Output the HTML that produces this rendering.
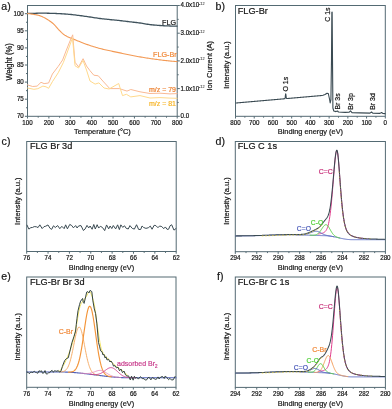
<!DOCTYPE html>
<html><head><meta charset="utf-8"><style>
html,body{margin:0;padding:0;background:#fff;width:392px;height:409px;overflow:hidden}
svg{display:block;filter:blur(0.3px)}
</style></head><body><svg width="392" height="409" viewBox="0 0 392 409" font-family='"Liberation Sans", sans-serif'><text transform="translate(6.0,10.0) scale(1,1.08)" font-size="10.6" fill="#161616" stroke="#161616" stroke-width="0.2" text-anchor="middle" >a)</text>
<rect x="27.5" y="5.5" width="149.7" height="110.8" fill="none" stroke="#546a73" stroke-width="1.0"/>
<line x1="24.9" y1="116.30000000000001" x2="27.5" y2="116.30000000000001" stroke="#546a73" stroke-width="1.0"/>
<text transform="translate(23.8,118.4) scale(1,1.08)" font-size="6.2" fill="#161616" stroke="#161616" stroke-width="0.2" text-anchor="end" >70</text>
<line x1="24.9" y1="99.20000000000002" x2="27.5" y2="99.20000000000002" stroke="#546a73" stroke-width="1.0"/>
<text transform="translate(23.8,101.30000000000001) scale(1,1.08)" font-size="6.2" fill="#161616" stroke="#161616" stroke-width="0.2" text-anchor="end" >75</text>
<line x1="24.9" y1="82.10000000000001" x2="27.5" y2="82.10000000000001" stroke="#546a73" stroke-width="1.0"/>
<text transform="translate(23.8,84.2) scale(1,1.08)" font-size="6.2" fill="#161616" stroke="#161616" stroke-width="0.2" text-anchor="end" >80</text>
<line x1="24.9" y1="65.0" x2="27.5" y2="65.0" stroke="#546a73" stroke-width="1.0"/>
<text transform="translate(23.8,67.1) scale(1,1.08)" font-size="6.2" fill="#161616" stroke="#161616" stroke-width="0.2" text-anchor="end" >85</text>
<line x1="24.9" y1="47.900000000000006" x2="27.5" y2="47.900000000000006" stroke="#546a73" stroke-width="1.0"/>
<text transform="translate(23.8,50.00000000000001) scale(1,1.08)" font-size="6.2" fill="#161616" stroke="#161616" stroke-width="0.2" text-anchor="end" >90</text>
<line x1="24.9" y1="30.8" x2="27.5" y2="30.8" stroke="#546a73" stroke-width="1.0"/>
<text transform="translate(23.8,32.9) scale(1,1.08)" font-size="6.2" fill="#161616" stroke="#161616" stroke-width="0.2" text-anchor="end" >95</text>
<line x1="24.9" y1="13.7" x2="27.5" y2="13.7" stroke="#546a73" stroke-width="1.0"/>
<text transform="translate(23.8,15.799999999999999) scale(1,1.08)" font-size="6.2" fill="#161616" stroke="#161616" stroke-width="0.2" text-anchor="end" >100</text>
<line x1="26.0" y1="107.75000000000001" x2="27.5" y2="107.75000000000001" stroke="#546a73" stroke-width="1.0"/>
<line x1="26.0" y1="90.65" x2="27.5" y2="90.65" stroke="#546a73" stroke-width="1.0"/>
<line x1="26.0" y1="73.55000000000001" x2="27.5" y2="73.55000000000001" stroke="#546a73" stroke-width="1.0"/>
<line x1="26.0" y1="56.45" x2="27.5" y2="56.45" stroke="#546a73" stroke-width="1.0"/>
<line x1="26.0" y1="39.35" x2="27.5" y2="39.35" stroke="#546a73" stroke-width="1.0"/>
<line x1="26.0" y1="22.25" x2="27.5" y2="22.25" stroke="#546a73" stroke-width="1.0"/>
<line x1="177.2" y1="116.3" x2="179.79999999999998" y2="116.3" stroke="#546a73" stroke-width="1.0"/>
<text transform="translate(180.5,118.2) scale(1,1.08)" font-size="6.2" fill="#161616" stroke="#161616" stroke-width="0.2" text-anchor="start" >0.0</text>
<line x1="177.2" y1="88.6" x2="179.79999999999998" y2="88.6" stroke="#546a73" stroke-width="1.0"/>
<text transform="translate(180.5,90.50) scale(1,1.08)" font-size="6.2" fill="#161616" stroke="#161616" stroke-width="0.2">1.0x10<tspan font-size="3.8" dy="-2.4" stroke-width="0.04">-12</tspan></text>
<line x1="177.2" y1="60.9" x2="179.79999999999998" y2="60.9" stroke="#546a73" stroke-width="1.0"/>
<text transform="translate(180.5,62.80) scale(1,1.08)" font-size="6.2" fill="#161616" stroke="#161616" stroke-width="0.2">2.0x10<tspan font-size="3.8" dy="-2.4" stroke-width="0.04">-12</tspan></text>
<line x1="177.2" y1="33.2" x2="179.79999999999998" y2="33.2" stroke="#546a73" stroke-width="1.0"/>
<text transform="translate(180.5,35.10) scale(1,1.08)" font-size="6.2" fill="#161616" stroke="#161616" stroke-width="0.2">3.0x10<tspan font-size="3.8" dy="-2.4" stroke-width="0.04">-12</tspan></text>
<line x1="177.2" y1="5.5" x2="179.79999999999998" y2="5.5" stroke="#546a73" stroke-width="1.0"/>
<text transform="translate(180.5,7.40) scale(1,1.08)" font-size="6.2" fill="#161616" stroke="#161616" stroke-width="0.2">4.0x10<tspan font-size="3.8" dy="-2.4" stroke-width="0.04">-12</tspan></text>
<line x1="177.2" y1="102.45" x2="178.7" y2="102.45" stroke="#546a73" stroke-width="1.0"/>
<line x1="177.2" y1="74.75" x2="178.7" y2="74.75" stroke="#546a73" stroke-width="1.0"/>
<line x1="177.2" y1="47.05" x2="178.7" y2="47.05" stroke="#546a73" stroke-width="1.0"/>
<line x1="177.2" y1="19.349999999999994" x2="178.7" y2="19.349999999999994" stroke="#546a73" stroke-width="1.0"/>
<line x1="27.5" y1="116.3" x2="27.5" y2="118.5" stroke="#546a73" stroke-width="1.0"/>
<line x1="48.885714285714286" y1="116.3" x2="48.885714285714286" y2="118.5" stroke="#546a73" stroke-width="1.0"/>
<line x1="70.27142857142857" y1="116.3" x2="70.27142857142857" y2="118.5" stroke="#546a73" stroke-width="1.0"/>
<line x1="91.65714285714284" y1="116.3" x2="91.65714285714284" y2="118.5" stroke="#546a73" stroke-width="1.0"/>
<line x1="113.04285714285713" y1="116.3" x2="113.04285714285713" y2="118.5" stroke="#546a73" stroke-width="1.0"/>
<line x1="134.42857142857142" y1="116.3" x2="134.42857142857142" y2="118.5" stroke="#546a73" stroke-width="1.0"/>
<line x1="155.8142857142857" y1="116.3" x2="155.8142857142857" y2="118.5" stroke="#546a73" stroke-width="1.0"/>
<line x1="177.2" y1="116.3" x2="177.2" y2="118.5" stroke="#546a73" stroke-width="1.0"/>
<line x1="38.19285714285714" y1="116.3" x2="38.19285714285714" y2="117.7" stroke="#546a73" stroke-width="1.0"/>
<line x1="59.57857142857142" y1="116.3" x2="59.57857142857142" y2="117.7" stroke="#546a73" stroke-width="1.0"/>
<line x1="80.96428571428571" y1="116.3" x2="80.96428571428571" y2="117.7" stroke="#546a73" stroke-width="1.0"/>
<line x1="102.35" y1="116.3" x2="102.35" y2="117.7" stroke="#546a73" stroke-width="1.0"/>
<line x1="123.73571428571428" y1="116.3" x2="123.73571428571428" y2="117.7" stroke="#546a73" stroke-width="1.0"/>
<line x1="145.12142857142857" y1="116.3" x2="145.12142857142857" y2="117.7" stroke="#546a73" stroke-width="1.0"/>
<line x1="166.50714285714284" y1="116.3" x2="166.50714285714284" y2="117.7" stroke="#546a73" stroke-width="1.0"/>
<text transform="translate(27.50,124.8) scale(1,1.08)" font-size="6.2" fill="#161616" stroke="#161616" stroke-width="0.2" text-anchor="middle" >100</text>
<text transform="translate(48.89,124.8) scale(1,1.08)" font-size="6.2" fill="#161616" stroke="#161616" stroke-width="0.2" text-anchor="middle" >200</text>
<text transform="translate(70.27,124.8) scale(1,1.08)" font-size="6.2" fill="#161616" stroke="#161616" stroke-width="0.2" text-anchor="middle" >300</text>
<text transform="translate(91.66,124.8) scale(1,1.08)" font-size="6.2" fill="#161616" stroke="#161616" stroke-width="0.2" text-anchor="middle" >400</text>
<text transform="translate(113.04,124.8) scale(1,1.08)" font-size="6.2" fill="#161616" stroke="#161616" stroke-width="0.2" text-anchor="middle" >500</text>
<text transform="translate(134.43,124.8) scale(1,1.08)" font-size="6.2" fill="#161616" stroke="#161616" stroke-width="0.2" text-anchor="middle" >600</text>
<text transform="translate(155.81,124.8) scale(1,1.08)" font-size="6.2" fill="#161616" stroke="#161616" stroke-width="0.2" text-anchor="middle" >700</text>
<text transform="translate(177.20,124.8) scale(1,1.08)" font-size="6.2" fill="#161616" stroke="#161616" stroke-width="0.2" text-anchor="middle" >800</text>
<text transform="translate(102.4,134.2) scale(1,1.08)" font-size="7.4" fill="#161616" stroke="#161616" stroke-width="0.2" text-anchor="middle" >Temperature (°C)</text>
<text transform="translate(12.2,61.9) rotate(-90) scale(1,1.08)" font-size="7.6" fill="#161616" stroke="#161616" stroke-width="0.2" text-anchor="middle">Weight (%)</text>
<text transform="translate(211.7,65.7) rotate(-90) scale(1,1.08)" font-size="7.5" fill="#161616" stroke="#161616" stroke-width="0.2" text-anchor="middle">Ion Current (A)</text>
<polyline points="27.50,13.50 28.48,13.47 29.80,13.44 31.38,13.39 33.12,13.34 34.95,13.30 36.76,13.25 38.47,13.22 40.00,13.20 41.37,13.19 42.68,13.19 43.93,13.20 45.16,13.21 46.36,13.22 47.56,13.24 48.77,13.27 50.00,13.30 51.25,13.33 52.50,13.37 53.75,13.41 55.00,13.46 56.25,13.51 57.50,13.57 58.75,13.63 60.00,13.70 61.25,13.77 62.50,13.84 63.75,13.92 65.00,14.00 66.25,14.09 67.50,14.18 68.75,14.29 70.00,14.40 71.25,14.52 72.50,14.66 73.75,14.80 75.00,14.96 76.25,15.11 77.50,15.27 78.75,15.44 80.00,15.60 81.25,15.76 82.50,15.93 83.75,16.11 85.00,16.28 86.25,16.46 87.50,16.64 88.75,16.82 90.00,17.00 91.25,17.19 92.50,17.38 93.75,17.57 95.00,17.77 96.25,17.96 97.50,18.15 98.75,18.33 100.00,18.50 101.25,18.66 102.50,18.81 103.75,18.95 105.00,19.08 106.25,19.21 107.50,19.34 108.75,19.47 110.00,19.60 111.25,19.73 112.50,19.85 113.75,19.97 115.00,20.09 116.25,20.21 117.50,20.34 118.75,20.47 120.00,20.60 121.25,20.74 122.50,20.89 123.75,21.04 125.00,21.19 126.25,21.34 127.50,21.50 128.75,21.65 130.00,21.80 131.25,21.95 132.50,22.09 133.75,22.23 135.00,22.38 136.25,22.52 137.50,22.67 138.75,22.83 140.00,23.00 141.25,23.19 142.50,23.39 143.75,23.60 145.00,23.82 146.25,24.03 147.50,24.24 148.75,24.43 150.00,24.60 151.25,24.75 152.50,24.88 153.75,25.01 155.00,25.12 156.25,25.22 157.50,25.32 158.75,25.41 160.00,25.50 161.27,25.58 162.57,25.66 163.88,25.73 165.19,25.79 166.47,25.85 167.71,25.91 168.89,25.95 170.00,26.00 171.07,26.04 172.12,26.08 173.15,26.11 174.12,26.13 175.02,26.15 175.81,26.17 176.48,26.19 177.00,26.20" fill="none" stroke="#3f525c" stroke-width="1.3" stroke-linejoin="round" stroke-linecap="round" />
<polyline points="27.50,13.50 28.09,13.58 28.90,13.69 29.86,13.82 30.91,13.97 32.01,14.12 33.10,14.29 34.11,14.45 35.00,14.60 35.77,14.74 36.47,14.86 37.13,14.98 37.76,15.11 38.38,15.26 39.01,15.43 39.68,15.64 40.40,15.90 41.17,16.21 41.99,16.57 42.83,16.96 43.68,17.38 44.54,17.82 45.39,18.28 46.21,18.74 47.00,19.20 47.77,19.67 48.54,20.16 49.31,20.68 50.06,21.19 50.78,21.71 51.46,22.23 52.11,22.72 52.70,23.20 53.23,23.65 53.70,24.09 54.13,24.52 54.52,24.94 54.89,25.35 55.25,25.76 55.62,26.18 56.00,26.60 56.38,27.02 56.75,27.44 57.11,27.86 57.46,28.27 57.82,28.70 58.19,29.12 58.58,29.56 59.00,30.00 59.44,30.46 59.91,30.95 60.39,31.45 60.88,31.95 61.38,32.45 61.89,32.92 62.40,33.38 62.90,33.80 63.40,34.19 63.89,34.55 64.38,34.88 64.88,35.21 65.39,35.51 65.91,35.81 66.44,36.11 67.00,36.40 67.56,36.68 68.12,36.93 68.68,37.17 69.26,37.41 69.87,37.65 70.52,37.90 71.23,38.18 72.00,38.50 72.84,38.85 73.74,39.23 74.69,39.63 75.69,40.05 76.72,40.48 77.79,40.92 78.88,41.36 80.00,41.80 81.15,42.25 82.36,42.71 83.60,43.19 84.88,43.67 86.16,44.15 87.45,44.61 88.74,45.07 90.00,45.50 91.25,45.91 92.50,46.32 93.75,46.71 95.00,47.09 96.25,47.46 97.50,47.82 98.75,48.16 100.00,48.50 101.25,48.82 102.50,49.13 103.75,49.42 105.00,49.71 106.25,49.98 107.50,50.26 108.75,50.53 110.00,50.80 111.25,51.07 112.50,51.34 113.75,51.60 115.00,51.86 116.25,52.12 117.50,52.38 118.75,52.64 120.00,52.90 121.25,53.16 122.50,53.43 123.75,53.70 125.00,53.96 126.25,54.23 127.50,54.49 128.75,54.75 130.00,55.00 131.25,55.25 132.50,55.50 133.75,55.74 135.00,55.98 136.25,56.22 137.50,56.45 138.75,56.68 140.00,56.90 141.25,57.12 142.50,57.33 143.75,57.53 145.00,57.73 146.25,57.93 147.50,58.12 148.75,58.31 150.00,58.50 151.25,58.69 152.50,58.87 153.75,59.05 155.00,59.23 156.25,59.41 157.50,59.58 158.75,59.74 160.00,59.90 161.27,60.06 162.57,60.21 163.88,60.36 165.19,60.50 166.47,60.64 167.71,60.77 168.89,60.89 170.00,61.00 171.07,61.10 172.12,61.20 173.15,61.29 174.12,61.37 175.02,61.44 175.81,61.50 176.48,61.56 177.00,61.60" fill="none" stroke="#f39a55" stroke-width="1.1" stroke-linejoin="round" stroke-linecap="round" />
<polyline points="27.50,84.90 32.70,86.50 37.10,86.10 41.00,82.30 44.10,83.60 48.60,83.00 52.40,74.00 58.20,66.40 62.60,60.00 66.00,51.00 70.00,41.00 72.70,34.80 75.00,62.20 78.50,66.90 83.10,58.70 86.50,66.00 90.00,70.70 93.80,75.20 98.30,75.80 102.80,81.00 109.80,88.60 119.30,88.60 127.00,91.10 130.80,89.50 140.00,91.80 150.00,93.50 160.00,93.20 170.00,93.90 177.00,93.60" fill="none" stroke="#f9b994" stroke-width="1.0" stroke-linejoin="round" stroke-linecap="round" />
<polyline points="27.50,88.00 33.90,89.30 37.80,88.70 42.90,86.10 46.00,86.80 48.60,88.30 52.40,81.70 58.20,72.80 63.30,62.60 67.00,53.00 72.50,37.80 75.00,65.70 78.50,68.00 83.00,60.50 86.50,70.00 90.00,81.00 95.10,84.10 98.90,82.90 104.00,88.00 109.10,89.00 118.70,83.50 122.50,95.60 126.40,94.30 130.80,96.90 140.00,95.60 150.00,98.00 160.00,97.60 170.00,98.10 177.00,98.30" fill="none" stroke="#ffd98c" stroke-width="1.0" stroke-linejoin="round" stroke-linecap="round" />
<text transform="translate(176,24.6) scale(1,1.08)" font-size="7.2" fill="#161616" stroke="#161616" stroke-width="0.2" text-anchor="end" >FLG</text>
<text transform="translate(176.7,56.9) scale(1,1.08)" font-size="7.2" fill="#f08838" stroke="#f08838" stroke-width="0.2" text-anchor="end" >FLG-Br</text>
<text transform="translate(176,91.5) scale(1,1.08)" font-size="7.0" fill="#ec8030" stroke="#ec8030" stroke-width="0.2" text-anchor="end" >m/z = 79</text>
<text transform="translate(176,105.8) scale(1,1.08)" font-size="7.0" fill="#f6b428" stroke="#f6b428" stroke-width="0.2" text-anchor="end" >m/z = 81</text>
<text transform="translate(220.3,10.0) scale(1,1.08)" font-size="10.6" fill="#161616" stroke="#161616" stroke-width="0.2" text-anchor="middle" >b)</text>
<rect x="235.5" y="5.5" width="149.8" height="110.8" fill="none" stroke="#546a73" stroke-width="1.0"/>
<line x1="385.3" y1="116.3" x2="385.3" y2="118.5" stroke="#546a73" stroke-width="1.0"/>
<line x1="366.57500000000005" y1="116.3" x2="366.57500000000005" y2="118.5" stroke="#546a73" stroke-width="1.0"/>
<line x1="347.85" y1="116.3" x2="347.85" y2="118.5" stroke="#546a73" stroke-width="1.0"/>
<line x1="329.125" y1="116.3" x2="329.125" y2="118.5" stroke="#546a73" stroke-width="1.0"/>
<line x1="310.4" y1="116.3" x2="310.4" y2="118.5" stroke="#546a73" stroke-width="1.0"/>
<line x1="291.675" y1="116.3" x2="291.675" y2="118.5" stroke="#546a73" stroke-width="1.0"/>
<line x1="272.95" y1="116.3" x2="272.95" y2="118.5" stroke="#546a73" stroke-width="1.0"/>
<line x1="254.225" y1="116.3" x2="254.225" y2="118.5" stroke="#546a73" stroke-width="1.0"/>
<line x1="235.5" y1="116.3" x2="235.5" y2="118.5" stroke="#546a73" stroke-width="1.0"/>
<line x1="375.9375" y1="116.3" x2="375.9375" y2="117.7" stroke="#546a73" stroke-width="1.0"/>
<line x1="357.2125" y1="116.3" x2="357.2125" y2="117.7" stroke="#546a73" stroke-width="1.0"/>
<line x1="338.4875" y1="116.3" x2="338.4875" y2="117.7" stroke="#546a73" stroke-width="1.0"/>
<line x1="319.7625" y1="116.3" x2="319.7625" y2="117.7" stroke="#546a73" stroke-width="1.0"/>
<line x1="301.0375" y1="116.3" x2="301.0375" y2="117.7" stroke="#546a73" stroke-width="1.0"/>
<line x1="282.3125" y1="116.3" x2="282.3125" y2="117.7" stroke="#546a73" stroke-width="1.0"/>
<line x1="263.5875" y1="116.3" x2="263.5875" y2="117.7" stroke="#546a73" stroke-width="1.0"/>
<line x1="244.8625" y1="116.3" x2="244.8625" y2="117.7" stroke="#546a73" stroke-width="1.0"/>
<text transform="translate(235.50,124.8) scale(1,1.08)" font-size="6.2" fill="#161616" stroke="#161616" stroke-width="0.2" text-anchor="middle" >800</text>
<text transform="translate(254.22,124.8) scale(1,1.08)" font-size="6.2" fill="#161616" stroke="#161616" stroke-width="0.2" text-anchor="middle" >700</text>
<text transform="translate(272.95,124.8) scale(1,1.08)" font-size="6.2" fill="#161616" stroke="#161616" stroke-width="0.2" text-anchor="middle" >600</text>
<text transform="translate(291.68,124.8) scale(1,1.08)" font-size="6.2" fill="#161616" stroke="#161616" stroke-width="0.2" text-anchor="middle" >500</text>
<text transform="translate(310.40,124.8) scale(1,1.08)" font-size="6.2" fill="#161616" stroke="#161616" stroke-width="0.2" text-anchor="middle" >400</text>
<text transform="translate(329.12,124.8) scale(1,1.08)" font-size="6.2" fill="#161616" stroke="#161616" stroke-width="0.2" text-anchor="middle" >300</text>
<text transform="translate(347.85,124.8) scale(1,1.08)" font-size="6.2" fill="#161616" stroke="#161616" stroke-width="0.2" text-anchor="middle" >200</text>
<text transform="translate(366.58,124.8) scale(1,1.08)" font-size="6.2" fill="#161616" stroke="#161616" stroke-width="0.2" text-anchor="middle" >100</text>
<text transform="translate(385.30,124.8) scale(1,1.08)" font-size="6.2" fill="#161616" stroke="#161616" stroke-width="0.2" text-anchor="middle" >0</text>
<text transform="translate(310.4,134.2) scale(1,1.08)" font-size="7.4" fill="#161616" stroke="#161616" stroke-width="0.2" text-anchor="middle" >Binding energy (eV)</text>
<text transform="translate(228.8,65.0) rotate(-90) scale(1,1.08)" font-size="7.5" fill="#161616" stroke="#161616" stroke-width="0.2" text-anchor="middle">Intensity (a.u.)</text>
<text transform="translate(237.7,13.6) scale(1,1.08)" font-size="9.2" fill="#161616" stroke="#161616" stroke-width="0.2" text-anchor="start" >FLG-Br</text>
<polyline points="236.00,103.00 236.10,102.99 236.20,102.98 236.30,102.97 236.40,102.97 236.50,102.96 236.60,102.95 236.70,102.94 236.80,102.93 236.90,102.92 237.00,102.91 237.10,102.90 237.20,102.90 237.30,102.89 237.40,102.88 237.50,102.87 237.60,102.86 237.70,102.85 237.80,102.84 237.90,102.83 238.00,102.83 238.10,102.82 238.20,102.81 238.30,102.80 238.40,102.79 238.50,102.78 238.60,102.77 238.70,102.76 238.80,102.76 238.90,102.75 239.00,102.74 239.10,102.73 239.20,102.72 239.30,102.71 239.40,102.70 239.50,102.69 239.60,102.69 239.70,102.68 239.80,102.67 239.90,102.66 240.00,102.65 240.10,102.64 240.20,102.63 240.30,102.62 240.40,102.62 240.50,102.61 240.60,102.60 240.70,102.59 240.80,102.58 240.90,102.57 241.00,102.56 241.10,102.56 241.20,102.55 241.30,102.54 241.40,102.53 241.50,102.52 241.60,102.51 241.70,102.50 241.80,102.49 241.90,102.49 242.00,102.48 242.10,102.47 242.20,102.46 242.30,102.45 242.40,102.44 242.50,102.43 242.60,102.42 242.70,102.42 242.80,102.41 242.90,102.40 243.00,102.39 243.10,102.38 243.20,102.37 243.30,102.36 243.40,102.35 243.50,102.35 243.60,102.34 243.70,102.33 243.80,102.32 243.90,102.31 244.00,102.30 244.10,102.29 244.20,102.28 244.30,102.28 244.40,102.27 244.50,102.26 244.60,102.25 244.70,102.24 244.80,102.23 244.90,102.22 245.00,102.22 245.10,102.21 245.20,102.20 245.30,102.19 245.40,102.18 245.50,102.17 245.60,102.16 245.70,102.15 245.80,102.15 245.90,102.14 246.00,102.13 246.10,102.12 246.20,102.11 246.30,102.10 246.40,102.09 246.50,102.08 246.60,102.08 246.70,102.07 246.80,102.06 246.90,102.05 247.00,102.04 247.10,102.03 247.20,102.02 247.30,102.01 247.40,102.01 247.50,102.00 247.60,101.99 247.70,101.98 247.80,101.97 247.90,101.96 248.00,101.95 248.10,101.94 248.20,101.94 248.30,101.93 248.40,101.92 248.50,101.91 248.60,101.90 248.70,101.89 248.80,101.88 248.90,101.88 249.00,101.87 249.10,101.86 249.20,101.85 249.30,101.84 249.40,101.83 249.50,101.82 249.60,101.81 249.70,101.81 249.80,101.80 249.90,101.79 250.00,101.78 250.10,101.77 250.20,101.76 250.30,101.75 250.40,101.74 250.50,101.74 250.60,101.73 250.70,101.72 250.80,101.71 250.90,101.70 251.00,101.69 251.10,101.68 251.20,101.67 251.30,101.67 251.40,101.66 251.50,101.65 251.60,101.64 251.70,101.63 251.80,101.62 251.90,101.61 252.00,101.60 252.10,101.60 252.20,101.59 252.30,101.58 252.40,101.57 252.50,101.56 252.60,101.55 252.70,101.54 252.80,101.53 252.90,101.53 253.00,101.52 253.10,101.51 253.20,101.50 253.30,101.49 253.40,101.48 253.50,101.47 253.60,101.47 253.70,101.46 253.80,101.45 253.90,101.44 254.00,101.43 254.10,101.42 254.20,101.41 254.30,101.40 254.40,101.40 254.50,101.39 254.60,101.38 254.70,101.37 254.80,101.36 254.90,101.35 255.00,101.34 255.10,101.33 255.20,101.33 255.30,101.32 255.40,101.31 255.50,101.30 255.60,101.29 255.70,101.28 255.80,101.27 255.90,101.26 256.00,101.26 256.10,101.25 256.20,101.24 256.30,101.23 256.40,101.22 256.50,101.21 256.60,101.20 256.70,101.19 256.80,101.19 256.90,101.18 257.00,101.17 257.10,101.16 257.20,101.15 257.30,101.14 257.40,101.13 257.50,101.12 257.60,101.12 257.70,101.11 257.80,101.10 257.90,101.09 258.00,101.08 258.10,101.07 258.20,101.06 258.30,101.06 258.40,101.05 258.50,101.04 258.60,101.03 258.70,101.02 258.80,101.01 258.90,101.00 259.00,100.99 259.10,100.99 259.20,100.98 259.30,100.97 259.40,100.96 259.50,100.95 259.60,100.94 259.70,100.93 259.80,100.92 259.90,100.92 260.00,100.91 260.10,100.90 260.20,100.89 260.30,100.88 260.40,100.87 260.50,100.86 260.60,100.85 260.70,100.85 260.80,100.84 260.90,100.83 261.00,100.82 261.10,100.81 261.20,100.80 261.30,100.79 261.40,100.78 261.50,100.78 261.60,100.77 261.70,100.76 261.80,100.75 261.90,100.74 262.00,100.73 262.10,100.72 262.20,100.72 262.30,100.71 262.40,100.70 262.50,100.69 262.60,100.68 262.70,100.67 262.80,100.66 262.90,100.65 263.00,100.65 263.10,100.64 263.20,100.63 263.30,100.62 263.40,100.61 263.50,100.60 263.60,100.59 263.70,100.58 263.80,100.58 263.90,100.57 264.00,100.56 264.10,100.55 264.20,100.54 264.30,100.53 264.40,100.52 264.50,100.51 264.60,100.51 264.70,100.50 264.80,100.49 264.90,100.48 265.00,100.47 265.10,100.46 265.20,100.45 265.30,100.44 265.40,100.44 265.50,100.43 265.60,100.42 265.70,100.41 265.80,100.40 265.90,100.39 266.00,100.38 266.10,100.38 266.20,100.37 266.30,100.36 266.40,100.35 266.50,100.34 266.60,100.33 266.70,100.32 266.80,100.31 266.90,100.31 267.00,100.30 267.10,100.29 267.20,100.28 267.30,100.27 267.40,100.26 267.50,100.25 267.60,100.24 267.70,100.24 267.80,100.23 267.90,100.22 268.00,100.21 268.10,100.20 268.20,100.19 268.30,100.18 268.40,100.17 268.50,100.17 268.60,100.16 268.70,100.15 268.80,100.14 268.90,100.13 269.00,100.12 269.10,100.11 269.20,100.10 269.30,100.10 269.40,100.09 269.50,100.08 269.60,100.07 269.70,100.06 269.80,100.05 269.90,100.04 270.00,100.03 270.10,100.03 270.20,100.02 270.30,100.01 270.40,100.00 270.50,99.99 270.60,99.98 270.70,99.97 270.80,99.97 270.90,99.96 271.00,99.95 271.10,99.94 271.20,99.93 271.30,99.92 271.40,99.91 271.50,99.90 271.60,99.90 271.70,99.89 271.80,99.88 271.90,99.87 272.00,99.86 272.10,99.85 272.20,99.84 272.30,99.83 272.40,99.83 272.50,99.82 272.60,99.81 272.70,99.80 272.80,99.79 272.90,99.78 273.00,99.77 273.10,99.76 273.20,99.76 273.30,99.75 273.40,99.74 273.50,99.73 273.60,99.72 273.70,99.71 273.80,99.70 273.90,99.69 274.00,99.69 274.10,99.68 274.20,99.67 274.30,99.66 274.40,99.65 274.50,99.64 274.60,99.63 274.70,99.62 274.80,99.62 274.90,99.61 275.00,99.60 275.10,99.59 275.20,99.58 275.30,99.57 275.40,99.56 275.50,99.56 275.60,99.55 275.70,99.54 275.80,99.53 275.90,99.52 276.00,99.51 276.10,99.50 276.20,99.49 276.30,99.49 276.40,99.48 276.50,99.47 276.60,99.46 276.70,99.45 276.80,99.44 276.90,99.43 277.00,99.42 277.10,99.42 277.20,99.41 277.30,99.40 277.40,99.39 277.50,99.38 277.60,99.37 277.70,99.36 277.80,99.35 277.90,99.35 278.00,99.34 278.10,99.33 278.20,99.32 278.30,99.31 278.40,99.30 278.50,99.29 278.60,99.28 278.70,99.28 278.80,99.27 278.90,99.26 279.00,99.25 279.10,99.24 279.20,99.23 279.30,99.22 279.40,99.22 279.50,99.21 279.60,99.20 279.70,99.19 279.80,99.18 279.90,99.17 280.00,99.16 280.10,99.15 280.20,99.15 280.30,99.14 280.40,99.13 280.50,99.12 280.60,99.11 280.70,99.10 280.80,99.09 280.90,99.08 281.00,99.08 281.10,99.07 281.20,99.06 281.30,99.05 281.40,99.04 281.50,99.03 281.60,99.02 281.70,99.01 281.80,99.01 281.90,99.00 282.00,98.99 282.10,98.98 282.20,98.97 282.30,98.96 282.40,98.95 282.50,98.94 282.60,98.94 282.70,98.93 282.80,98.92 282.90,98.91 283.00,98.90 283.10,98.89 283.20,98.88 283.30,98.87 283.40,98.87 283.50,98.86 283.60,98.85 283.70,98.84 283.80,98.83 283.90,98.82 284.00,98.81 284.10,98.81 284.20,98.80 284.30,98.79 284.40,98.78 284.50,98.77 284.60,98.75 284.70,98.72 284.80,98.66 284.90,98.53 285.00,98.30 285.10,97.91 285.20,97.31 285.30,96.52 285.40,95.61 285.50,94.74 285.60,94.11 285.70,93.87 285.80,94.09 285.90,94.71 286.00,95.56 286.10,96.45 286.20,97.23 286.30,97.80 286.40,98.18 286.50,98.39 286.60,98.50 286.70,98.54 286.80,98.56 286.90,98.56 287.00,98.55 287.10,98.54 287.20,98.53 287.30,98.53 287.40,98.52 287.50,98.51 287.60,98.50 287.70,98.49 287.80,98.48 287.90,98.47 288.00,98.47 288.10,98.46 288.20,98.45 288.30,98.44 288.40,98.43 288.50,98.42 288.60,98.41 288.70,98.40 288.80,98.40 288.90,98.39 289.00,98.38 289.10,98.37 289.20,98.36 289.30,98.35 289.40,98.34 289.50,98.33 289.60,98.33 289.70,98.32 289.80,98.31 289.90,98.30 290.00,98.29 290.10,98.28 290.20,98.27 290.30,98.26 290.40,98.26 290.50,98.25 290.60,98.24 290.70,98.23 290.80,98.22 290.90,98.21 291.00,98.20 291.10,98.19 291.20,98.19 291.30,98.18 291.40,98.17 291.50,98.16 291.60,98.15 291.70,98.14 291.80,98.13 291.90,98.12 292.00,98.12 292.10,98.11 292.20,98.10 292.30,98.09 292.40,98.08 292.50,98.07 292.60,98.06 292.70,98.06 292.80,98.05 292.90,98.04 293.00,98.03 293.10,98.02 293.20,98.01 293.30,98.00 293.40,97.99 293.50,97.99 293.60,97.98 293.70,97.97 293.80,97.96 293.90,97.95 294.00,97.94 294.10,97.93 294.20,97.92 294.30,97.92 294.40,97.91 294.50,97.90 294.60,97.89 294.70,97.88 294.80,97.87 294.90,97.86 295.00,97.85 295.10,97.85 295.20,97.84 295.30,97.83 295.40,97.82 295.50,97.81 295.60,97.80 295.70,97.79 295.80,97.78 295.90,97.78 296.00,97.77 296.10,97.76 296.20,97.75 296.30,97.74 296.40,97.73 296.50,97.72 296.60,97.72 296.70,97.71 296.80,97.70 296.90,97.69 297.00,97.68 297.10,97.67 297.20,97.66 297.30,97.65 297.40,97.65 297.50,97.64 297.60,97.63 297.70,97.62 297.80,97.61 297.90,97.60 298.00,97.59 298.10,97.58 298.20,97.58 298.30,97.57 298.40,97.56 298.50,97.55 298.60,97.54 298.70,97.53 298.80,97.52 298.90,97.51 299.00,97.51 299.10,97.50 299.20,97.49 299.30,97.48 299.40,97.47 299.50,97.46 299.60,97.45 299.70,97.44 299.80,97.44 299.90,97.43 300.00,97.42 300.10,97.41 300.20,97.40 300.30,97.39 300.40,97.38 300.50,97.38 300.60,97.37 300.70,97.36 300.80,97.35 300.90,97.34 301.00,97.33 301.10,97.32 301.20,97.31 301.30,97.31 301.40,97.30 301.50,97.29 301.60,97.28 301.70,97.27 301.80,97.26 301.90,97.25 302.00,97.24 302.10,97.24 302.20,97.23 302.30,97.22 302.40,97.21 302.50,97.20 302.60,97.19 302.70,97.18 302.80,97.17 302.90,97.17 303.00,97.16 303.10,97.15 303.20,97.14 303.30,97.13 303.40,97.12 303.50,97.11 303.60,97.10 303.70,97.10 303.80,97.09 303.90,97.08 304.00,97.07 304.10,97.06 304.20,97.05 304.30,97.04 304.40,97.03 304.50,97.03 304.60,97.02 304.70,97.01 304.80,97.00 304.90,96.99 305.00,96.98 305.10,96.97 305.20,96.97 305.30,96.96 305.40,96.95 305.50,96.94 305.60,96.93 305.70,96.92 305.80,96.91 305.90,96.90 306.00,96.90 306.10,96.89 306.20,96.88 306.30,96.87 306.40,96.86 306.50,96.85 306.60,96.84 306.70,96.83 306.80,96.83 306.90,96.82 307.00,96.81 307.10,96.80 307.20,96.79 307.30,96.78 307.40,96.77 307.50,96.76 307.60,96.76 307.70,96.75 307.80,96.74 307.90,96.73 308.00,96.72 308.10,96.71 308.20,96.70 308.30,96.69 308.40,96.69 308.50,96.68 308.60,96.67 308.70,96.66 308.80,96.65 308.90,96.64 309.00,96.63 309.10,96.62 309.20,96.62 309.30,96.61 309.40,96.60 309.50,96.59 309.60,96.58 309.70,96.57 309.80,96.56 309.90,96.56 310.00,96.55 310.10,96.54 310.20,96.53 310.30,96.52 310.40,96.51 310.50,96.50 310.60,96.49 310.70,96.49 310.80,96.48 310.90,96.47 311.00,96.46 311.10,96.45 311.20,96.44 311.30,96.43 311.40,96.42 311.50,96.42 311.60,96.41 311.70,96.40 311.80,96.39 311.90,96.38 312.00,96.37 312.10,96.36 312.20,96.35 312.30,96.35 312.40,96.34 312.50,96.33 312.60,96.32 312.70,96.31 312.80,96.30 312.90,96.29 313.00,96.28 313.10,96.28 313.20,96.27 313.30,96.26 313.40,96.25 313.50,96.24 313.60,96.23 313.70,96.22 313.80,96.22 313.90,96.21 314.00,96.20 314.10,96.19 314.20,96.18 314.30,96.17 314.40,96.16 314.50,96.15 314.60,96.15 314.70,96.14 314.80,96.13 314.90,96.12 315.00,96.11 315.10,96.10 315.20,96.09 315.30,96.08 315.40,96.08 315.50,96.07 315.60,96.06 315.70,96.05 315.80,96.04 315.90,96.03 316.00,96.02 316.10,96.01 316.20,96.01 316.30,96.00 316.40,95.99 316.50,95.98 316.60,95.97 316.70,95.96 316.80,95.95 316.90,95.94 317.00,95.94 317.10,95.93 317.20,95.92 317.30,95.91 317.40,95.90 317.50,95.89 317.60,95.88 317.70,95.88 317.80,95.87 317.90,95.86 318.00,95.85 318.10,95.84 318.20,95.83 318.30,95.82 318.40,95.81 318.50,95.81 318.60,95.80 318.70,95.79 318.80,95.78 318.90,95.77 319.00,95.76 319.10,95.75 319.20,95.74 319.30,95.74 319.40,95.73 319.50,95.72 319.60,95.71 319.70,95.70 319.80,95.69 319.90,95.68 320.00,95.67 320.10,95.67 320.20,95.66 320.30,95.65 320.40,95.64 320.50,95.63 320.60,95.62 320.70,95.61 320.80,95.60 320.90,95.60 321.00,95.59 321.10,95.58 321.20,95.57 321.30,95.56 321.40,95.55 321.50,95.54 321.60,95.53 321.70,95.53 321.80,95.52 321.90,95.51 323.00,95.30 325.00,94.50 327.00,93.20 328.30,93.50 329.50,99.00 330.20,103.00 330.90,100.00 331.50,60.00 331.85,12.20 332.15,12.10 332.50,60.00 332.90,108.00 333.80,111.00 336.00,111.60 337.50,111.00 338.50,112.00 345.00,112.40 349.00,112.30 350.50,110.80 352.00,112.60 360.00,112.90 370.00,113.10 371.50,112.00 373.00,113.30 380.00,113.40 381.50,112.50 383.00,113.50 385.00,113.60" fill="none" stroke="#3a4a52" stroke-width="1.1" stroke-linejoin="round" stroke-linecap="round" />
<text transform="translate(288.2,91.5) rotate(-90) scale(1,1.08)" font-size="7.0" fill="#161616" stroke="#161616" stroke-width="0.2" text-anchor="start">O 1s</text>
<text transform="translate(330.4,21.8) rotate(-90) scale(1,1.08)" font-size="7.0" fill="#161616" stroke="#161616" stroke-width="0.2" text-anchor="start">C 1s</text>
<text transform="translate(339.9,109.6) rotate(-90) scale(1,1.08)" font-size="7.0" fill="#161616" stroke="#161616" stroke-width="0.2" text-anchor="start">Br 3s</text>
<text transform="translate(352.9,109.8) rotate(-90) scale(1,1.08)" font-size="7.0" fill="#161616" stroke="#161616" stroke-width="0.2" text-anchor="start">Br 3p</text>
<text transform="translate(374.8,109.8) rotate(-90) scale(1,1.08)" font-size="7.0" fill="#161616" stroke="#161616" stroke-width="0.2" text-anchor="start">Br 3d</text>
<text transform="translate(6.0,144.9) scale(1,1.08)" font-size="10.6" fill="#161616" stroke="#161616" stroke-width="0.2" text-anchor="middle" >c)</text>
<rect x="26.7" y="141.5" width="149.5" height="110.0" fill="none" stroke="#546a73" stroke-width="1.0"/>
<line x1="176.2" y1="251.5" x2="176.2" y2="253.7" stroke="#546a73" stroke-width="1.0"/>
<line x1="154.84285714285713" y1="251.5" x2="154.84285714285713" y2="253.7" stroke="#546a73" stroke-width="1.0"/>
<line x1="133.4857142857143" y1="251.5" x2="133.4857142857143" y2="253.7" stroke="#546a73" stroke-width="1.0"/>
<line x1="112.12857142857143" y1="251.5" x2="112.12857142857143" y2="253.7" stroke="#546a73" stroke-width="1.0"/>
<line x1="90.77142857142857" y1="251.5" x2="90.77142857142857" y2="253.7" stroke="#546a73" stroke-width="1.0"/>
<line x1="69.41428571428571" y1="251.5" x2="69.41428571428571" y2="253.7" stroke="#546a73" stroke-width="1.0"/>
<line x1="48.05714285714286" y1="251.5" x2="48.05714285714286" y2="253.7" stroke="#546a73" stroke-width="1.0"/>
<line x1="26.7" y1="251.5" x2="26.7" y2="253.7" stroke="#546a73" stroke-width="1.0"/>
<line x1="165.52142857142857" y1="251.5" x2="165.52142857142857" y2="252.9" stroke="#546a73" stroke-width="1.0"/>
<line x1="144.1642857142857" y1="251.5" x2="144.1642857142857" y2="252.9" stroke="#546a73" stroke-width="1.0"/>
<line x1="122.80714285714286" y1="251.5" x2="122.80714285714286" y2="252.9" stroke="#546a73" stroke-width="1.0"/>
<line x1="101.45" y1="251.5" x2="101.45" y2="252.9" stroke="#546a73" stroke-width="1.0"/>
<line x1="80.09285714285714" y1="251.5" x2="80.09285714285714" y2="252.9" stroke="#546a73" stroke-width="1.0"/>
<line x1="58.73571428571428" y1="251.5" x2="58.73571428571428" y2="252.9" stroke="#546a73" stroke-width="1.0"/>
<line x1="37.378571428571426" y1="251.5" x2="37.378571428571426" y2="252.9" stroke="#546a73" stroke-width="1.0"/>
<text transform="translate(26.70,259.7) scale(1,1.08)" font-size="6.2" fill="#161616" stroke="#161616" stroke-width="0.2" text-anchor="middle" >76</text>
<text transform="translate(48.06,259.7) scale(1,1.08)" font-size="6.2" fill="#161616" stroke="#161616" stroke-width="0.2" text-anchor="middle" >74</text>
<text transform="translate(69.41,259.7) scale(1,1.08)" font-size="6.2" fill="#161616" stroke="#161616" stroke-width="0.2" text-anchor="middle" >72</text>
<text transform="translate(90.77,259.7) scale(1,1.08)" font-size="6.2" fill="#161616" stroke="#161616" stroke-width="0.2" text-anchor="middle" >70</text>
<text transform="translate(112.13,259.7) scale(1,1.08)" font-size="6.2" fill="#161616" stroke="#161616" stroke-width="0.2" text-anchor="middle" >68</text>
<text transform="translate(133.49,259.7) scale(1,1.08)" font-size="6.2" fill="#161616" stroke="#161616" stroke-width="0.2" text-anchor="middle" >66</text>
<text transform="translate(154.84,259.7) scale(1,1.08)" font-size="6.2" fill="#161616" stroke="#161616" stroke-width="0.2" text-anchor="middle" >64</text>
<text transform="translate(176.20,259.7) scale(1,1.08)" font-size="6.2" fill="#161616" stroke="#161616" stroke-width="0.2" text-anchor="middle" >62</text>
<text transform="translate(101.5,269.6) scale(1,1.08)" font-size="7.4" fill="#161616" stroke="#161616" stroke-width="0.2" text-anchor="middle" >Binding energy (eV)</text>
<text transform="translate(19.6,201.2) rotate(-90) scale(1,1.08)" font-size="7.5" fill="#161616" stroke="#161616" stroke-width="0.2" text-anchor="middle">Intensity (a.u.)</text>
<text transform="translate(29.9,149.2) scale(1,1.08)" font-size="9.2" fill="#161616" stroke="#161616" stroke-width="0.2" text-anchor="start" >FLG Br 3d</text>
<polyline points="27.00,225.11 28.88,229.12 30.79,227.66 32.56,227.46 34.19,226.60 36.33,226.78 38.06,227.57 39.83,224.82 42.16,228.57 44.04,226.61 45.68,226.22 47.97,224.95 50.10,228.40 51.70,229.34 53.47,225.81 55.26,227.51 57.65,225.57 59.80,228.70 61.82,226.31 64.15,228.67 65.65,224.83 67.42,228.85 69.78,224.43 71.77,225.57 73.42,227.83 75.63,225.59 77.08,227.97 78.65,225.92 81.03,225.60 83.39,230.48 85.00,229.13 87.00,225.36 88.71,227.93 90.12,226.01 92.12,229.26 93.77,224.49 95.31,229.02 97.15,224.71 98.68,228.05 100.30,226.28 102.41,227.41 104.68,230.62 106.55,224.94 108.66,228.90 110.10,225.99 111.80,228.56 113.29,225.53 115.66,228.91 117.62,224.83 119.38,229.58 120.85,224.83 122.70,227.35 124.54,225.80 126.17,228.30 128.27,228.96 129.91,225.58 132.27,228.40 134.39,229.09 136.55,224.72 138.63,229.41 140.65,229.52 142.05,225.98 143.60,227.48 145.94,228.36 148.30,227.77 150.34,226.10 152.06,229.24 154.14,225.32 155.92,225.63 157.94,227.70 159.61,225.99 161.82,226.58 163.72,228.70 165.36,226.95 167.07,229.36 168.61,229.19 170.06,225.77 171.68,224.76 173.96,230.14 176.00,228.50" fill="none" stroke="#3a4a52" stroke-width="1.0" stroke-linejoin="round" stroke-linecap="round" />
<text transform="translate(6.0,280.4) scale(1,1.08)" font-size="10.6" fill="#161616" stroke="#161616" stroke-width="0.2" text-anchor="middle" >e)</text>
<rect x="26.7" y="277.0" width="149.3" height="110.30000000000001" fill="none" stroke="#546a73" stroke-width="1.0"/>
<line x1="176.0" y1="387.3" x2="176.0" y2="389.5" stroke="#546a73" stroke-width="1.0"/>
<line x1="154.67142857142858" y1="387.3" x2="154.67142857142858" y2="389.5" stroke="#546a73" stroke-width="1.0"/>
<line x1="133.34285714285716" y1="387.3" x2="133.34285714285716" y2="389.5" stroke="#546a73" stroke-width="1.0"/>
<line x1="112.01428571428572" y1="387.3" x2="112.01428571428572" y2="389.5" stroke="#546a73" stroke-width="1.0"/>
<line x1="90.68571428571428" y1="387.3" x2="90.68571428571428" y2="389.5" stroke="#546a73" stroke-width="1.0"/>
<line x1="69.35714285714286" y1="387.3" x2="69.35714285714286" y2="389.5" stroke="#546a73" stroke-width="1.0"/>
<line x1="48.028571428571425" y1="387.3" x2="48.028571428571425" y2="389.5" stroke="#546a73" stroke-width="1.0"/>
<line x1="26.7" y1="387.3" x2="26.7" y2="389.5" stroke="#546a73" stroke-width="1.0"/>
<line x1="165.3357142857143" y1="387.3" x2="165.3357142857143" y2="388.7" stroke="#546a73" stroke-width="1.0"/>
<line x1="144.00714285714287" y1="387.3" x2="144.00714285714287" y2="388.7" stroke="#546a73" stroke-width="1.0"/>
<line x1="122.67857142857144" y1="387.3" x2="122.67857142857144" y2="388.7" stroke="#546a73" stroke-width="1.0"/>
<line x1="101.35000000000001" y1="387.3" x2="101.35000000000001" y2="388.7" stroke="#546a73" stroke-width="1.0"/>
<line x1="80.02142857142857" y1="387.3" x2="80.02142857142857" y2="388.7" stroke="#546a73" stroke-width="1.0"/>
<line x1="58.69285714285714" y1="387.3" x2="58.69285714285714" y2="388.7" stroke="#546a73" stroke-width="1.0"/>
<line x1="37.364285714285714" y1="387.3" x2="37.364285714285714" y2="388.7" stroke="#546a73" stroke-width="1.0"/>
<text transform="translate(26.70,395.7) scale(1,1.08)" font-size="6.2" fill="#161616" stroke="#161616" stroke-width="0.2" text-anchor="middle" >76</text>
<text transform="translate(48.03,395.7) scale(1,1.08)" font-size="6.2" fill="#161616" stroke="#161616" stroke-width="0.2" text-anchor="middle" >74</text>
<text transform="translate(69.36,395.7) scale(1,1.08)" font-size="6.2" fill="#161616" stroke="#161616" stroke-width="0.2" text-anchor="middle" >72</text>
<text transform="translate(90.69,395.7) scale(1,1.08)" font-size="6.2" fill="#161616" stroke="#161616" stroke-width="0.2" text-anchor="middle" >70</text>
<text transform="translate(112.01,395.7) scale(1,1.08)" font-size="6.2" fill="#161616" stroke="#161616" stroke-width="0.2" text-anchor="middle" >68</text>
<text transform="translate(133.34,395.7) scale(1,1.08)" font-size="6.2" fill="#161616" stroke="#161616" stroke-width="0.2" text-anchor="middle" >66</text>
<text transform="translate(154.67,395.7) scale(1,1.08)" font-size="6.2" fill="#161616" stroke="#161616" stroke-width="0.2" text-anchor="middle" >64</text>
<text transform="translate(176.00,395.7) scale(1,1.08)" font-size="6.2" fill="#161616" stroke="#161616" stroke-width="0.2" text-anchor="middle" >62</text>
<text transform="translate(101.5,405.5) scale(1,1.08)" font-size="7.4" fill="#161616" stroke="#161616" stroke-width="0.2" text-anchor="middle" >Binding energy (eV)</text>
<text transform="translate(19.6,336.8) rotate(-90) scale(1,1.08)" font-size="7.5" fill="#161616" stroke="#161616" stroke-width="0.2" text-anchor="middle">Intensity (a.u.)</text>
<text transform="translate(29.9,285.0) scale(1,1.08)" font-size="9.2" fill="#161616" stroke="#161616" stroke-width="0.2" text-anchor="start" >FLG-Br Br 3d</text>
<polyline points="27.00,372.00 27.50,372.00 28.00,372.00 28.50,372.00 29.00,372.00 29.50,372.00 30.00,372.00 30.50,372.00 31.00,372.00 31.50,372.00 32.00,372.00 32.50,372.00 33.00,372.00 33.50,372.00 34.00,372.00 34.50,372.00 35.00,372.00 35.50,372.00 36.00,372.00 36.50,372.00 37.00,372.00 37.50,372.00 38.00,372.00 38.50,372.00 39.00,372.00 39.50,372.00 40.00,372.00 40.50,372.00 41.00,372.00 41.50,372.00 42.00,372.00 42.50,372.00 43.00,372.00 43.50,372.00 44.00,372.00 44.50,372.00 45.00,372.00 45.50,372.00 46.00,372.00 46.50,372.00 47.00,372.00 47.50,372.00 48.00,372.00 48.50,372.00 49.00,372.00 49.50,372.00 50.00,372.00 50.50,372.00 51.00,372.00 51.50,372.00 52.00,372.00 52.50,372.00 53.00,372.00 53.50,372.00 54.00,372.00 54.50,372.00 55.00,372.00 55.50,372.00 56.00,372.00 56.50,372.00 57.00,372.00 57.50,372.00 58.00,372.00 58.50,372.00 59.00,372.00 59.50,372.00 60.00,372.00 60.50,372.00 61.00,372.00 61.50,372.01 62.00,372.01 62.50,372.02 63.00,372.03 63.50,372.04 64.00,372.05 64.50,372.06 65.00,372.07 65.50,372.09 66.00,372.10 66.50,372.12 67.00,372.14 67.50,372.16 68.00,372.18 68.50,372.21 69.00,372.23 69.50,372.26 70.00,372.29 70.50,372.32 71.00,372.35 71.50,372.38 72.00,372.41 72.50,372.44 73.00,372.48 73.50,372.52 74.00,372.55 74.50,372.59 75.00,372.63 75.50,372.67 76.00,372.72 76.50,372.76 77.00,372.80 77.50,372.85 78.00,372.90 78.50,372.94 79.00,372.99 79.50,373.04 80.00,373.09 80.50,373.14 81.00,373.20 81.50,373.25 82.00,373.30 82.50,373.36 83.00,373.41 83.50,373.47 84.00,373.53 84.50,373.58 85.00,373.64 85.50,373.70 86.00,373.76 86.50,373.82 87.00,373.88 87.50,373.94 88.00,374.00 88.50,374.07 89.00,374.13 89.50,374.19 90.00,374.25 90.50,374.32 91.00,374.38 91.50,374.45 92.00,374.51 92.50,374.58 93.00,374.64 93.50,374.70 94.00,374.77 94.50,374.83 95.00,374.90 95.50,374.97 96.00,375.03 96.50,375.10 97.00,375.16 97.50,375.22 98.00,375.29 98.50,375.35 99.00,375.42 99.50,375.48 100.00,375.55 100.50,375.61 101.00,375.67 101.50,375.73 102.00,375.80 102.50,375.86 103.00,375.92 103.50,375.98 104.00,376.04 104.50,376.10 105.00,376.16 105.50,376.22 106.00,376.27 106.50,376.33 107.00,376.39 107.50,376.44 108.00,376.50 108.50,376.55 109.00,376.60 109.50,376.66 110.00,376.71 110.50,376.76 111.00,376.81 111.50,376.86 112.00,376.90 112.50,376.95 113.00,377.00 113.50,377.04 114.00,377.08 114.50,377.13 115.00,377.17 115.50,377.21 116.00,377.25 116.50,377.28 117.00,377.32 117.50,377.36 118.00,377.39 118.50,377.42 119.00,377.45 119.50,377.48 120.00,377.51 120.50,377.54 121.00,377.57 121.50,377.59 122.00,377.62 122.50,377.64 123.00,377.66 123.50,377.68 124.00,377.70 124.50,377.71 125.00,377.73 125.50,377.74 126.00,377.75 126.50,377.76 127.00,377.77 127.50,377.78 128.00,377.79 128.50,377.79 129.00,377.80 129.50,377.80 130.00,377.80 130.50,377.80 131.00,377.80 131.50,377.80 132.00,377.80 132.50,377.80 133.00,377.80 133.50,377.80 134.00,377.80 134.50,377.80 135.00,377.80 135.50,377.80 136.00,377.80 136.50,377.80 137.00,377.80 137.50,377.80 138.00,377.80 138.50,377.80 139.00,377.80 139.50,377.80 140.00,377.80 140.50,377.80 141.00,377.80 141.50,377.80 142.00,377.80 142.50,377.80 143.00,377.80 143.50,377.80 144.00,377.80 144.50,377.80 145.00,377.80 145.50,377.80 146.00,377.80 146.50,377.80 147.00,377.80 147.50,377.80 148.00,377.80 148.50,377.80 149.00,377.80 149.50,377.80 150.00,377.80 150.50,377.80 151.00,377.80 151.50,377.80 152.00,377.80 152.50,377.80 153.00,377.80 153.50,377.80 154.00,377.80 154.50,377.80 155.00,377.80 155.50,377.80 156.00,377.80 156.50,377.80 157.00,377.80 157.50,377.80 158.00,377.80 158.50,377.80 159.00,377.80 159.50,377.80 160.00,377.80 160.50,377.80 161.00,377.80 161.50,377.80 162.00,377.80 162.50,377.80 163.00,377.80 163.50,377.80 164.00,377.80 164.50,377.80 165.00,377.80 165.50,377.80 166.00,377.80 166.50,377.80 167.00,377.80 167.50,377.80 168.00,377.80 168.50,377.80 169.00,377.80 169.50,377.80 170.00,377.80 170.50,377.80 171.00,377.80 171.50,377.80 172.00,377.80 172.50,377.80 173.00,377.80 173.50,377.80 174.00,377.80 174.50,377.80 175.00,377.80 175.50,377.80 176.00,377.80" fill="none" stroke="#5060b8" stroke-width="1.1" stroke-linejoin="round" stroke-linecap="round" />
<polyline points="60.50,371.89 61.00,371.85 61.50,371.80 62.00,371.74 62.50,371.65 63.00,371.54 63.50,371.39 64.00,371.20 64.50,370.97 65.00,370.67 65.50,370.30 66.00,369.85 66.50,369.30 67.00,368.65 67.50,367.86 68.00,366.94 68.50,365.87 69.00,364.64 69.50,363.24 70.00,361.66 70.50,359.91 71.00,357.99 71.50,355.90 72.00,353.66 72.50,351.30 73.00,348.84 73.50,346.31 74.00,343.75 74.50,341.21 75.00,338.74 75.50,336.38 76.00,334.19 76.50,332.21 77.00,330.50 77.50,329.09 78.00,328.03 78.50,327.33 79.00,327.02 79.50,327.11 80.00,327.60 80.50,328.47 81.00,329.70 81.50,331.27 82.00,333.14 82.50,335.26 83.00,337.59 83.50,340.07 84.00,342.66 84.50,345.30 85.00,347.95 85.50,350.56 86.00,353.10 86.50,355.54 87.00,357.84 87.50,359.99 88.00,361.97 88.50,363.78 89.00,365.41 89.50,366.86 90.00,368.15 90.50,369.28 91.00,370.25 91.50,371.10 92.00,371.81 92.50,372.42 93.00,372.94 93.50,373.37 94.00,373.73 94.50,374.04 95.00,374.29 95.50,374.50 96.00,374.68 96.50,374.84 97.00,374.97 97.50,375.09 98.00,375.19 98.50,375.28 99.00,375.37 99.50,375.45" fill="none" stroke="#f4a458" stroke-width="0.9" stroke-linejoin="round" stroke-linecap="round" stroke-dasharray="0.8,0.8"/>
<polyline points="68.50,372.13 69.00,372.12 69.50,372.11 70.00,372.09 70.50,372.05 71.00,371.99 71.50,371.91 72.00,371.80 72.50,371.65 73.00,371.46 73.50,371.21 74.00,370.89 74.50,370.50 75.00,370.02 75.50,369.42 76.00,368.71 76.50,367.86 77.00,366.86 77.50,365.68 78.00,364.32 78.50,362.76 79.00,360.99 79.50,359.00 80.00,356.79 80.50,354.36 81.00,351.70 81.50,348.84 82.00,345.79 82.50,342.57 83.00,339.23 83.50,335.78 84.00,332.29 84.50,328.80 85.00,325.37 85.50,322.05 86.00,318.90 86.50,315.99 87.00,313.36 87.50,311.09 88.00,309.20 88.50,307.75 89.00,306.77 89.50,306.28 90.00,306.30 90.50,306.81 91.00,307.82 91.50,309.31 92.00,311.23 92.50,313.56 93.00,316.25 93.50,319.23 94.00,322.46 94.50,325.88 95.00,329.42 95.50,333.02 96.00,336.64 96.50,340.22 97.00,343.71 97.50,347.07 98.00,350.27 98.50,353.29 99.00,356.11 99.50,358.70 100.00,361.07 100.50,363.22 101.00,365.14 101.50,366.86 102.00,368.36 102.50,369.68 103.00,370.82 103.50,371.81 104.00,372.65 104.50,373.37 105.00,373.97 105.50,374.48 106.00,374.90 106.50,375.26 107.00,375.55 107.50,375.80 108.00,376.00 108.50,376.18 109.00,376.32 109.50,376.45 110.00,376.55 110.50,376.64 111.00,376.72 111.50,376.79" fill="none" stroke="#f39438" stroke-width="1.15" stroke-linejoin="round" stroke-linecap="round" />
<polyline points="80.50,373.13 81.00,373.17 81.50,373.22 82.00,373.26 82.50,373.31 83.00,373.35 83.50,373.39 84.00,373.42 84.50,373.45 85.00,373.48 85.50,373.50 86.00,373.51 86.50,373.51 87.00,373.51 87.50,373.49 88.00,373.47 88.50,373.43 89.00,373.37 89.50,373.30 90.00,373.22 90.50,373.12 91.00,373.01 91.50,372.88 92.00,372.73 92.50,372.57 93.00,372.40 93.50,372.22 94.00,372.03 94.50,371.83 95.00,371.64 95.50,371.44 96.00,371.25 96.50,371.07 97.00,370.90 97.50,370.75 98.00,370.62 98.50,370.52 99.00,370.45 99.50,370.40 100.00,370.39 100.50,370.42 101.00,370.47 101.50,370.57 102.00,370.70 102.50,370.86 103.00,371.06 103.50,371.28 104.00,371.53 104.50,371.80 105.00,372.08 105.50,372.39 106.00,372.70 106.50,373.01 107.00,373.33 107.50,373.65 108.00,373.96 108.50,374.26 109.00,374.55 109.50,374.83 110.00,375.10 110.50,375.34 111.00,375.58 111.50,375.79 112.00,375.99 112.50,376.17 113.00,376.33 113.50,376.48 114.00,376.62 114.50,376.74 115.00,376.85 115.50,376.95 116.00,377.03 116.50,377.11 117.00,377.18 117.50,377.25 118.00,377.30 118.50,377.35 119.00,377.40 119.50,377.44 120.00,377.48 120.50,377.52 121.00,377.55 121.50,377.58" fill="none" stroke="#e888b8" stroke-width="0.9" stroke-linejoin="round" stroke-linecap="round" stroke-dasharray="0.7,0.9"/>
<polyline points="90.50,374.28 91.00,374.33 91.50,374.38 92.00,374.42 92.50,374.46 93.00,374.50 93.50,374.53 94.00,374.55 94.50,374.56 95.00,374.57 95.50,374.56 96.00,374.54 96.50,374.50 97.00,374.45 97.50,374.38 98.00,374.29 98.50,374.17 99.00,374.04 99.50,373.88 100.00,373.70 100.50,373.49 101.00,373.25 101.50,372.99 102.00,372.71 102.50,372.40 103.00,372.07 103.50,371.72 104.00,371.36 104.50,370.99 105.00,370.61 105.50,370.23 106.00,369.86 106.50,369.49 107.00,369.14 107.50,368.82 108.00,368.52 108.50,368.26 109.00,368.04 109.50,367.86 110.00,367.73 110.50,367.65 111.00,367.63 111.50,367.66 112.00,367.74 112.50,367.89 113.00,368.08 113.50,368.33 114.00,368.62 114.50,368.96 115.00,369.33 115.50,369.73 116.00,370.16 116.50,370.61 117.00,371.07 117.50,371.54 118.00,372.02 118.50,372.48 119.00,372.94 119.50,373.39 120.00,373.82 120.50,374.23 121.00,374.62 121.50,374.98 122.00,375.32 122.50,375.63 123.00,375.91 123.50,376.17 124.00,376.40 124.50,376.61 125.00,376.79 125.50,376.95 126.00,377.09 126.50,377.21 127.00,377.32 127.50,377.41 128.00,377.48 128.50,377.54 129.00,377.60 129.50,377.64 130.00,377.67 130.50,377.70 131.00,377.72 131.50,377.74 132.00,377.75 132.50,377.76 133.00,377.77 133.50,377.78 134.00,377.78 134.50,377.79 135.00,377.79 135.50,377.79" fill="none" stroke="#d04890" stroke-width="1.0" stroke-linejoin="round" stroke-linecap="round" />
<polyline points="58.58,371.07 59.62,371.04 60.70,370.07 61.98,368.10 63.40,365.39 65.06,362.56 66.90,358.37 68.80,353.63 70.70,348.73 72.52,343.25 74.12,336.56 75.48,330.22 76.70,323.83 77.78,317.52 78.78,311.53 80.04,306.37 81.30,303.18 82.52,301.70 83.74,300.15 84.96,298.33 86.02,296.97 87.16,295.09 88.34,292.49 89.58,291.42 90.82,293.18 92.10,296.65 93.42,300.78 94.80,307.47 96.14,317.66 97.46,326.71 98.72,335.09 100.00,342.72 101.22,348.94 102.32,351.30 103.44,353.68 104.52,354.88 105.54,356.54 106.64,357.38 107.84,358.93 109.02,359.51 110.32,360.82 111.60,362.03 112.90,363.31 114.20,364.49 115.60,365.72 117.00,367.21 118.50,367.79 120.00,369.21 121.50,369.84 123.00,371.39 124.50,372.47 126.00,373.83 127.56,375.29" fill="none" stroke="#f2e258" stroke-width="0.9" stroke-linejoin="round" stroke-linecap="round" />
<polyline points="27.00,372.03 28.20,372.42 29.40,373.73 30.60,372.08 31.80,372.23 33.00,372.51 34.20,371.06 35.40,372.24 36.60,372.67 37.80,373.25 39.00,370.74 40.20,371.49 41.40,370.73 42.60,373.31 43.80,372.90 45.00,370.55 46.20,373.94 47.40,373.87 48.60,372.75 49.80,372.62 51.00,370.97 52.20,370.45 53.40,372.30 54.60,370.61 55.80,371.08 57.00,371.27 58.20,370.51 59.40,372.07 60.00,371.93 61.00,370.91 62.40,366.42 64.60,360.67 66.50,358.50 68.30,357.79 70.20,349.95 71.90,342.73 74.10,336.20 75.60,331.09 76.30,324.31 77.00,318.25 78.00,310.78 79.50,304.68 80.60,301.15 82.60,298.48 83.30,302.32 84.10,303.38 85.60,296.92 86.70,292.06 87.90,291.65 89.00,292.92 90.00,290.40 91.80,291.55 92.90,300.89 94.30,308.96 95.60,313.58 96.90,323.88 98.50,342.49 99.50,346.16 100.60,350.83 102.00,351.72 103.00,355.00 104.00,354.30 105.10,358.06 106.00,356.81 107.10,360.04 108.50,359.20 110.00,362.02 111.00,360.97 112.50,363.36 113.50,366.11 115.00,365.57 116.50,367.94 118.00,367.13 119.50,370.78 121.00,369.06 122.50,372.67 124.00,371.04 125.50,374.90 127.00,376.16 128.50,375.86 130.30,379.97 131.51,376.09 133.16,380.18 134.37,376.25 135.70,378.35 136.79,377.31 138.39,379.11 140.35,376.65 142.22,378.51 144.12,378.70 145.31,380.08 146.51,379.96 148.11,377.59 149.15,377.32 150.86,379.85 152.45,377.45 154.17,378.66 155.73,379.43 157.01,378.61 158.03,376.91 159.09,378.94 160.66,377.08 162.55,376.49 164.24,378.48 165.28,375.98 166.98,377.76 168.62,379.66 169.94,378.35 171.48,380.00 173.22,379.79 175.13,376.43" fill="none" stroke="#34443f" stroke-width="1.0" stroke-linejoin="round" stroke-linecap="round" />
<text transform="translate(73.1,333.5) scale(1,1.08)" font-size="7.0" fill="#f08838" stroke="#f08838" stroke-width="0.2" text-anchor="end" >C-Br</text>
<text transform="translate(117,365.8) scale(1,1.08)" font-size="7.0" fill="#c83c8c" stroke="#c83c8c" stroke-width="0.2">adsorbed Br<tspan font-size="4.5" dy="1.8">2</tspan></text>
<text transform="translate(220.2,144.9) scale(1,1.08)" font-size="10.6" fill="#161616" stroke="#161616" stroke-width="0.2" text-anchor="middle" >d)</text>
<rect x="235.3" y="141.5" width="150.09999999999997" height="110.19999999999999" fill="none" stroke="#546a73" stroke-width="1.0"/>
<line x1="385.4" y1="251.7" x2="385.4" y2="253.89999999999998" stroke="#546a73" stroke-width="1.0"/>
<line x1="363.9571428571428" y1="251.7" x2="363.9571428571428" y2="253.89999999999998" stroke="#546a73" stroke-width="1.0"/>
<line x1="342.51428571428573" y1="251.7" x2="342.51428571428573" y2="253.89999999999998" stroke="#546a73" stroke-width="1.0"/>
<line x1="321.07142857142856" y1="251.7" x2="321.07142857142856" y2="253.89999999999998" stroke="#546a73" stroke-width="1.0"/>
<line x1="299.62857142857143" y1="251.7" x2="299.62857142857143" y2="253.89999999999998" stroke="#546a73" stroke-width="1.0"/>
<line x1="278.1857142857143" y1="251.7" x2="278.1857142857143" y2="253.89999999999998" stroke="#546a73" stroke-width="1.0"/>
<line x1="256.74285714285713" y1="251.7" x2="256.74285714285713" y2="253.89999999999998" stroke="#546a73" stroke-width="1.0"/>
<line x1="235.3" y1="251.7" x2="235.3" y2="253.89999999999998" stroke="#546a73" stroke-width="1.0"/>
<line x1="374.67857142857144" y1="251.7" x2="374.67857142857144" y2="253.1" stroke="#546a73" stroke-width="1.0"/>
<line x1="353.23571428571427" y1="251.7" x2="353.23571428571427" y2="253.1" stroke="#546a73" stroke-width="1.0"/>
<line x1="331.79285714285714" y1="251.7" x2="331.79285714285714" y2="253.1" stroke="#546a73" stroke-width="1.0"/>
<line x1="310.35" y1="251.7" x2="310.35" y2="253.1" stroke="#546a73" stroke-width="1.0"/>
<line x1="288.90714285714284" y1="251.7" x2="288.90714285714284" y2="253.1" stroke="#546a73" stroke-width="1.0"/>
<line x1="267.4642857142857" y1="251.7" x2="267.4642857142857" y2="253.1" stroke="#546a73" stroke-width="1.0"/>
<line x1="246.02142857142857" y1="251.7" x2="246.02142857142857" y2="253.1" stroke="#546a73" stroke-width="1.0"/>
<text transform="translate(235.30,259.9) scale(1,1.08)" font-size="6.2" fill="#161616" stroke="#161616" stroke-width="0.2" text-anchor="middle" >294</text>
<text transform="translate(256.74,259.9) scale(1,1.08)" font-size="6.2" fill="#161616" stroke="#161616" stroke-width="0.2" text-anchor="middle" >292</text>
<text transform="translate(278.19,259.9) scale(1,1.08)" font-size="6.2" fill="#161616" stroke="#161616" stroke-width="0.2" text-anchor="middle" >290</text>
<text transform="translate(299.63,259.9) scale(1,1.08)" font-size="6.2" fill="#161616" stroke="#161616" stroke-width="0.2" text-anchor="middle" >288</text>
<text transform="translate(321.07,259.9) scale(1,1.08)" font-size="6.2" fill="#161616" stroke="#161616" stroke-width="0.2" text-anchor="middle" >286</text>
<text transform="translate(342.51,259.9) scale(1,1.08)" font-size="6.2" fill="#161616" stroke="#161616" stroke-width="0.2" text-anchor="middle" >284</text>
<text transform="translate(363.96,259.9) scale(1,1.08)" font-size="6.2" fill="#161616" stroke="#161616" stroke-width="0.2" text-anchor="middle" >282</text>
<text transform="translate(385.40,259.9) scale(1,1.08)" font-size="6.2" fill="#161616" stroke="#161616" stroke-width="0.2" text-anchor="middle" >280</text>
<text transform="translate(310.4,270.09999999999997) scale(1,1.08)" font-size="7.4" fill="#161616" stroke="#161616" stroke-width="0.2" text-anchor="middle" >Binding energy (eV)</text>
<text transform="translate(228.6,201.0) rotate(-90) scale(1,1.08)" font-size="7.5" fill="#161616" stroke="#161616" stroke-width="0.2" text-anchor="middle">Intensity (a.u.)</text>
<text transform="translate(237.7,149.2) scale(1,1.08)" font-size="9.2" fill="#161616" stroke="#161616" stroke-width="0.2" text-anchor="start" >FLG C 1s</text>
<polyline points="235.80,235.95 236.20,235.95 236.60,235.95 237.00,235.95 237.40,235.94 237.80,235.94 238.20,235.94 238.60,235.94 239.00,235.93 239.40,235.93 239.80,235.93 240.20,235.92 240.60,235.92 241.00,235.92 241.40,235.91 241.80,235.91 242.20,235.91 242.60,235.90 243.00,235.90 243.40,235.89 243.80,235.89 244.20,235.88 244.60,235.88 245.00,235.87 245.40,235.87 245.80,235.86 246.20,235.86 246.60,235.85 247.00,235.85 247.40,235.84 247.80,235.83 248.20,235.83 248.60,235.82 249.00,235.81 249.40,235.81 249.80,235.80 250.20,235.79 250.60,235.79 251.00,235.78 251.40,235.77 251.80,235.76 252.20,235.75 252.60,235.75 253.00,235.74 253.40,235.73 253.80,235.72 254.20,235.71 254.60,235.70 255.00,235.69 255.40,235.68 255.80,235.67 256.20,235.66 256.60,235.65 257.00,235.64 257.40,235.63 257.80,235.62 258.20,235.61 258.60,235.60 259.00,235.59 259.40,235.58 259.80,235.56 260.20,235.55 260.60,235.54 261.00,235.53 261.40,235.52 261.80,235.50 262.20,235.49 262.60,235.48 263.00,235.47 263.40,235.45 263.80,235.44 264.20,235.43 264.60,235.41 265.00,235.40 265.40,235.39 265.80,235.37 266.20,235.36 266.60,235.35 267.00,235.33 267.40,235.32 267.80,235.31 268.20,235.29 268.60,235.28 269.00,235.26 269.40,235.25 269.80,235.24 270.20,235.22 270.60,235.21 271.00,235.20 271.40,235.18 271.80,235.17 272.20,235.16 272.60,235.14 273.00,235.13 273.40,235.12 273.80,235.10 274.20,235.09 274.60,235.08 275.00,235.07 275.40,235.05 275.80,235.04 276.20,235.03 276.60,235.02 277.00,235.01 277.40,234.99 277.80,234.98 278.20,234.97 278.60,234.96 279.00,234.95 279.40,234.94 279.80,234.93 280.20,234.92 280.60,234.91 281.00,234.90 281.40,234.89 281.80,234.89 282.20,234.88 282.60,234.87 283.00,234.86 283.40,234.86 283.80,234.85 284.20,234.84 284.60,234.84 285.00,234.83 285.40,234.83 285.80,234.82 286.20,234.82 286.60,234.82 287.00,234.81 287.40,234.81 287.80,234.81 288.20,234.80 288.60,234.80 289.00,234.80 289.40,234.80 289.80,234.80 290.20,234.80 290.60,234.80 291.00,234.80 291.40,234.80 291.80,234.80 292.20,234.81 292.60,234.81 293.00,234.81 293.40,234.82 293.80,234.82 294.20,234.82 294.60,234.83 295.00,234.83 295.40,234.84 295.80,234.84 296.20,234.85 296.60,234.86 297.00,234.86 297.40,234.87 297.80,234.88 298.20,234.89 298.60,234.89 299.00,234.90 299.40,234.91 299.80,234.92 300.20,234.93 300.60,234.94 301.00,234.95 301.40,234.96 301.80,234.97 302.20,234.98 302.60,234.99 303.00,235.01 303.40,235.02 303.80,235.03 304.20,235.04 304.60,235.05 305.00,235.07 305.40,235.08 305.80,235.09 306.20,235.10 306.60,235.12 307.00,235.13 307.40,235.14 307.80,235.16 308.20,235.17 308.60,235.18 309.00,235.20 309.40,235.21 309.80,235.22 310.20,235.24 310.60,235.25 311.00,235.26 311.40,235.28 311.80,235.29 312.20,235.31 312.60,235.32 313.00,235.33 313.40,235.35 313.80,235.36 314.20,235.37 314.60,235.39 315.00,235.40 315.40,235.41 315.80,235.43 316.20,235.44 316.60,235.45 317.00,235.47 317.40,235.48 317.80,235.49 318.20,235.50 318.60,235.52 319.00,235.53 319.40,235.54 319.80,235.55 320.20,235.56 320.60,235.58 321.00,235.59 321.40,235.60 321.80,235.61 322.20,235.62 322.60,235.63 323.00,235.64 323.40,235.65 323.80,235.66 324.20,235.67 324.60,235.68 325.00,235.69 325.40,235.70 325.80,235.72 326.20,235.74 326.60,235.76 327.00,235.79 327.40,235.82 327.80,235.85 328.20,235.89 328.60,235.93 329.00,235.98 329.40,236.02 329.80,236.07 330.20,236.13 330.60,236.19 331.00,236.25 331.40,236.31 331.80,236.38 332.20,236.45 332.60,236.52 333.00,236.59 333.40,236.67 333.80,236.75 334.20,236.83 334.60,236.91 335.00,236.99 335.40,237.08 335.80,237.16 336.20,237.25 336.60,237.34 337.00,237.43 337.40,237.52 337.80,237.60 338.20,237.69 338.60,237.78 339.00,237.87 339.40,237.96 339.80,238.05 340.20,238.14 340.60,238.23 341.00,238.31 341.40,238.40 341.80,238.48 342.20,238.56 342.60,238.64 343.00,238.72 343.40,238.80 343.80,238.87 344.20,238.94 344.60,239.01 345.00,239.08 345.40,239.14 345.80,239.20 346.20,239.26 346.60,239.31 347.00,239.36 347.40,239.41 347.80,239.45 348.20,239.49 348.60,239.53 349.00,239.56 349.40,239.59 349.80,239.62 350.20,239.64 350.60,239.66 351.00,239.67 351.40,239.68 351.80,239.68 352.20,239.68 352.60,239.68 353.00,239.69 353.40,239.69 353.80,239.69 354.20,239.69 354.60,239.69 355.00,239.69 355.40,239.69 355.80,239.69 356.20,239.69 356.60,239.69 357.00,239.69 357.40,239.69 357.80,239.69 358.20,239.69 358.60,239.69 359.00,239.69 359.40,239.69 359.80,239.69 360.20,239.69 360.60,239.70 361.00,239.70 361.40,239.70 361.80,239.70 362.20,239.70 362.60,239.70 363.00,239.70 363.40,239.70 363.80,239.70 364.20,239.70 364.60,239.70 365.00,239.70 365.40,239.70 365.80,239.70 366.20,239.70 366.60,239.70 367.00,239.70 367.40,239.70 367.80,239.70 368.20,239.70 368.60,239.70 369.00,239.70 369.40,239.70 369.80,239.70 370.20,239.70 370.60,239.70 371.00,239.70 371.40,239.70 371.80,239.70 372.20,239.70 372.60,239.70 373.00,239.70 373.40,239.70 373.80,239.70 374.20,239.70 374.60,239.70 375.00,239.70 375.40,239.70 375.80,239.70 376.20,239.70 376.60,239.70 377.00,239.70 377.40,239.70 377.80,239.70 378.20,239.70 378.60,239.70 379.00,239.70 379.40,239.70 379.80,239.70 380.20,239.70 380.60,239.70 381.00,239.70 381.40,239.70 381.80,239.70 382.20,239.70 382.60,239.70 383.00,239.70 383.40,239.70 383.80,239.70 384.20,239.70 384.60,239.70" fill="none" stroke="#5868c0" stroke-width="1.0" stroke-linejoin="round" stroke-linecap="round" />
<polyline points="318.20,234.01 318.60,233.96 319.00,233.91 319.40,233.85 319.80,233.79 320.20,233.72 320.60,233.64 321.00,233.56 321.40,233.46 321.80,233.36 322.20,233.24 322.60,233.11 323.00,232.96 323.40,232.78 323.80,232.58 324.20,232.34 324.60,232.05 325.00,231.71 325.40,231.30 325.80,230.82 326.20,230.24 326.60,229.54 327.00,228.70 327.40,227.69 327.80,226.50 328.20,225.08 328.60,223.42 329.00,221.48 329.40,219.24 329.80,216.68 330.20,213.77 330.60,210.52 331.00,206.91 331.40,202.96 331.80,198.69 332.20,194.14 332.60,189.36 333.00,184.40 333.40,179.37 333.80,174.34 334.20,169.45 334.60,164.82 335.00,160.59 335.40,156.91 335.80,153.94 336.20,151.81 336.60,150.63 337.00,150.47 337.40,151.58 337.80,153.99 338.20,157.49 338.60,161.87 339.00,166.85 339.40,172.20 339.80,177.70 340.20,183.18 340.60,188.52 341.00,193.61 341.40,198.39 341.80,202.83 342.20,206.89 342.60,210.57 343.00,213.87 343.40,216.81 343.80,219.40 344.20,221.67 344.60,223.66 345.00,225.38 345.40,226.86 345.80,228.15 346.20,229.25 346.60,230.21 347.00,231.04 347.40,231.75 347.80,232.38 348.20,232.93 348.60,233.41 349.00,233.84 349.40,234.22 349.80,234.56 350.20,234.87 350.60,235.15 351.00,235.40 351.40,235.63 351.80,235.83 352.20,236.02 352.60,236.20 353.00,236.36 353.40,236.51 353.80,236.65 354.20,236.78 354.60,236.91 355.00,237.02 355.40,237.13 355.80,237.23 356.20,237.33 356.60,237.42 357.00,237.51 357.40,237.59 357.80,237.67 358.20,237.74 358.60,237.81 359.00,237.87 359.40,237.94 359.80,238.00 360.20,238.05 360.60,238.11 361.00,238.16 361.40,238.21 361.80,238.25" fill="none" stroke="#e03c8c" stroke-width="1.0" stroke-linejoin="round" stroke-linecap="round" />
<polyline points="310.20,235.23 310.60,235.24 311.00,235.24 311.40,235.25 311.80,235.25 312.20,235.25 312.60,235.24 313.00,235.23 313.40,235.21 313.80,235.18 314.20,235.14 314.60,235.09 315.00,235.02 315.40,234.93 315.80,234.81 316.20,234.67 316.60,234.50 317.00,234.30 317.40,234.06 317.80,233.79 318.20,233.47 318.60,233.11 319.00,232.70 319.40,232.25 319.80,231.76 320.20,231.24 320.60,230.68 321.00,230.09 321.40,229.48 321.80,228.86 322.20,228.25 322.60,227.65 323.00,227.07 323.40,226.53 323.80,226.04 324.20,225.62 324.60,225.26 325.00,224.99 325.40,224.81 325.80,224.73 326.20,224.75 326.60,224.88 327.00,225.11 327.40,225.45 327.80,225.87 328.20,226.38 328.60,226.96 329.00,227.58 329.40,228.25 329.80,228.95 330.20,229.66 330.60,230.37 331.00,231.06 331.40,231.74 331.80,232.38 332.20,232.99 332.60,233.55 333.00,234.07 333.40,234.55 333.80,234.98 334.20,235.37 334.60,235.72 335.00,236.03 335.40,236.30 335.80,236.55 336.20,236.77 336.60,236.96 337.00,237.14 337.40,237.29 337.80,237.44 338.20,237.57 338.60,237.69 339.00,237.81 339.40,237.91 339.80,238.02" fill="none" stroke="#58d048" stroke-width="1.0" stroke-linejoin="round" stroke-linecap="round" />
<polyline points="296.20,234.84 296.60,234.84 297.00,234.84 297.40,234.85 297.80,234.85 298.20,234.85 298.60,234.85 299.00,234.85 299.40,234.85 299.80,234.84 300.20,234.83 300.60,234.82 301.00,234.81 301.40,234.79 301.80,234.77 302.20,234.75 302.60,234.72 303.00,234.69 303.40,234.65 303.80,234.60 304.20,234.55 304.60,234.49 305.00,234.42 305.40,234.34 305.80,234.26 306.20,234.17 306.60,234.07 307.00,233.96 307.40,233.84 307.80,233.72 308.20,233.58 308.60,233.45 309.00,233.30 309.40,233.15 309.80,233.00 310.20,232.84 310.60,232.68 311.00,232.53 311.40,232.37 311.80,232.22 312.20,232.07 312.60,231.93 313.00,231.80 313.40,231.68 313.80,231.57 314.20,231.48 314.60,231.40 315.00,231.33 315.40,231.29 315.80,231.26 316.20,231.25 316.60,231.25 317.00,231.29 317.40,231.36 317.80,231.45 318.20,231.57 318.60,231.72 319.00,231.89 319.40,232.08 319.80,232.28 320.20,232.50 320.60,232.72 321.00,232.95 321.40,233.18 321.80,233.40 322.20,233.63 322.60,233.84 323.00,234.05 323.40,234.24 323.80,234.42 324.20,234.59 324.60,234.75 325.00,234.89 325.40,235.02 325.80,235.14 326.20,235.25 326.60,235.36 327.00,235.45 327.40,235.54 327.80,235.63 328.20,235.71 328.60,235.78 329.00,235.86 329.40,235.93 329.80,236.00 330.20,236.07 330.60,236.14 331.00,236.21 331.40,236.29 331.80,236.36 332.20,236.43 332.60,236.51 333.00,236.58 333.40,236.66 333.80,236.74" fill="none" stroke="#5868c0" stroke-width="1.0" stroke-linejoin="round" stroke-linecap="round" />
<polyline points="235.80,235.90 236.20,235.90 236.60,235.89 237.00,235.89 237.40,235.89 237.80,235.89 238.20,235.88 238.60,235.88 239.00,235.88 239.40,235.87 239.80,235.87 240.20,235.86 240.60,235.86 241.00,235.86 241.40,235.85 241.80,235.85 242.20,235.84 242.60,235.84 243.00,235.83 243.40,235.83 243.80,235.82 244.20,235.82 244.60,235.81 245.00,235.81 245.40,235.80 245.80,235.80 246.20,235.79 246.60,235.78 247.00,235.78 247.40,235.77 247.80,235.76 248.20,235.76 248.60,235.75 249.00,235.74 249.40,235.74 249.80,235.73 250.20,235.72 250.60,235.71 251.00,235.70 251.40,235.70 251.80,235.69 252.20,235.68 252.60,235.67 253.00,235.66 253.40,235.65 253.80,235.64 254.20,235.63 254.60,235.62 255.00,235.61 255.40,235.60 255.80,235.59 256.20,235.58 256.60,235.57 257.00,235.56 257.40,235.54 257.80,235.53 258.20,235.52 258.60,235.51 259.00,235.50 259.40,235.48 259.80,235.47 260.20,235.46 260.60,235.45 261.00,235.43 261.40,235.42 261.80,235.41 262.20,235.39 262.60,235.38 263.00,235.37 263.40,235.35 263.80,235.34 264.20,235.32 264.60,235.31 265.00,235.29 265.40,235.28 265.80,235.27 266.20,235.25 266.60,235.24 267.00,235.22 267.40,235.21 267.80,235.19 268.20,235.18 268.60,235.16 269.00,235.15 269.40,235.13 269.80,235.12 270.20,235.10 270.60,235.09 271.00,235.07 271.40,235.05 271.80,235.04 272.20,235.02 272.60,235.01 273.00,235.00 273.40,234.98 273.80,234.97 274.20,234.95 274.60,234.94 275.00,234.92 275.40,234.91 275.80,234.89 276.20,234.88 276.60,234.87 277.00,234.85 277.40,234.84 277.80,234.83 278.20,234.81 278.60,234.80 279.00,234.79 279.40,234.77 279.80,234.76 280.20,234.75 280.60,234.74 281.00,234.73 281.40,234.72 281.80,234.71 282.20,234.70 282.60,234.68 283.00,234.67 283.40,234.67 283.80,234.66 284.20,234.65 284.60,234.64 285.00,234.63 285.40,234.62 285.80,234.61 286.20,234.61 286.60,234.60 287.00,234.59 287.40,234.59 287.80,234.58 288.20,234.57 288.60,234.57 289.00,234.56 289.40,234.56 289.80,234.55 290.20,234.55 290.60,234.55 291.00,234.54 291.40,234.54 291.80,234.53 292.20,234.53 292.60,234.53 293.00,234.53 293.40,234.52 293.80,234.52 294.20,234.52 294.60,234.52 295.00,234.52 295.40,234.51 295.80,234.51 296.20,234.51 296.60,234.51 297.00,234.50 297.40,234.50 297.80,234.49 298.20,234.49 298.60,234.48 299.00,234.47 299.40,234.46 299.80,234.45 300.20,234.43 300.60,234.41 301.00,234.39 301.40,234.36 301.80,234.33 302.20,234.30 302.60,234.26 303.00,234.21 303.40,234.16 303.80,234.11 304.20,234.04 304.60,233.97 305.00,233.89 305.40,233.80 305.80,233.70 306.20,233.59 306.60,233.48 307.00,233.35 307.40,233.22 307.80,233.08 308.20,232.93 308.60,232.77 309.00,232.61 309.40,232.44 309.80,232.26 310.20,232.08 310.60,231.89 311.00,231.71 311.40,231.52 311.80,231.33 312.20,231.14 312.60,230.95 313.00,230.77 313.40,230.58 313.80,230.40 314.20,230.22 314.60,230.03 315.00,229.85 315.40,229.65 315.80,229.46 316.20,229.25 316.60,229.03 317.00,228.80 317.40,228.56 317.80,228.31 318.20,228.05 318.60,227.76 319.00,227.44 319.40,227.10 319.80,226.73 320.20,226.32 320.60,225.88 321.00,225.42 321.40,224.92 321.80,224.41 322.20,223.88 322.60,223.34 323.00,222.79 323.40,222.25 323.80,221.72 324.20,221.20 324.60,220.70 325.00,220.21 325.40,219.73 325.80,219.25 326.20,218.76 326.60,218.25 327.00,217.69 327.40,217.05 327.80,216.30 328.20,215.39 328.60,214.30 329.00,212.97 329.40,211.38 329.80,209.48 330.20,207.24 330.60,204.65 331.00,201.69 331.40,198.36 331.80,194.67 332.20,190.67 332.60,186.38 333.00,181.88 333.40,177.24 333.80,172.58 334.20,167.99 334.60,163.63 335.00,159.62 335.40,156.14 335.80,153.33 336.20,151.33 336.60,150.25 337.00,150.18 337.40,151.36 337.80,153.82 338.20,157.37 338.60,161.78 339.00,166.78 339.40,172.15 339.80,177.66 340.20,183.15 340.60,188.50 341.00,193.60 341.40,198.38 341.80,202.82 342.20,206.88 342.60,210.56 343.00,213.87 343.40,216.81 343.80,219.40 344.20,221.67 344.60,223.66 345.00,225.37 345.40,226.86 345.80,228.15 346.20,229.25 346.60,230.21 347.00,231.04 347.40,231.75 347.80,232.38 348.20,232.93 348.60,233.41 349.00,233.84 349.40,234.22 349.80,234.56 350.20,234.87 350.60,235.15 351.00,235.40 351.40,235.63 351.80,235.83 352.20,236.02 352.60,236.20 353.00,236.36 353.40,236.51 353.80,236.65 354.20,236.78 354.60,236.91 355.00,237.02 355.40,237.13 355.80,237.23 356.20,237.33 356.60,237.42 357.00,237.51 357.40,237.59 357.80,237.67 358.20,237.74 358.60,237.81 359.00,237.87 359.40,237.94 359.80,238.00 360.20,238.05 360.60,238.11 361.00,238.16 361.40,238.21 361.80,238.25 362.20,238.30 362.60,238.34 363.00,238.38 363.40,238.42 363.80,238.45 364.20,238.49 364.60,238.52 365.00,238.56 365.40,238.59 365.80,238.62 366.20,238.65 366.60,238.67 367.00,238.70 367.40,238.73 367.80,238.75 368.20,238.78 368.60,238.80 369.00,238.82 369.40,238.84 369.80,238.86 370.20,238.88 370.60,238.90 371.00,238.92 371.40,238.94 371.80,238.95 372.20,238.97 372.60,238.99 373.00,239.00 373.40,239.02 373.80,239.03 374.20,239.05 374.60,239.06 375.00,239.07 375.40,239.09 375.80,239.10 376.20,239.11 376.60,239.12 377.00,239.13 377.40,239.14 377.80,239.16 378.20,239.17 378.60,239.18 379.00,239.19 379.40,239.19 379.80,239.20 380.20,239.21 380.60,239.22 381.00,239.23 381.40,239.24 381.80,239.25 382.20,239.26 382.60,239.26 383.00,239.27 383.40,239.28 383.80,239.28 384.20,239.29 384.60,239.30" fill="none" stroke="#3a4a52" stroke-width="1.05" stroke-linejoin="round" stroke-linecap="round" />
<polyline points="262.20,235.99 262.60,235.98 263.00,235.97 263.40,235.95 263.80,235.94 264.20,235.92 264.60,235.91 265.00,235.89 265.40,235.88 265.80,235.87 266.20,235.85 266.60,235.84 267.00,235.82 267.40,235.81 267.80,235.79 268.20,235.78 268.60,235.76 269.00,235.75 269.40,235.73 269.80,235.72 270.20,235.70 270.60,235.69 271.00,235.67 271.40,235.65 271.80,235.64 272.20,235.62 272.60,235.61 273.00,235.60 273.40,235.58 273.80,235.57 274.20,235.55 274.60,235.54 275.00,235.52 275.40,235.51 275.80,235.49 276.20,235.48 276.60,235.47 277.00,235.45 277.40,235.44 277.80,235.43 278.20,235.41 278.60,235.40 279.00,235.39 279.40,235.37 279.80,235.36 280.20,235.35 280.60,235.34 281.00,235.33 281.40,235.32 281.80,235.31 282.20,235.30 282.60,235.28 283.00,235.27 283.40,235.27 283.80,235.26 284.20,235.25 284.60,235.24 285.00,235.23 285.40,235.22 285.80,235.21 286.20,235.21 286.60,235.20 287.00,235.19 287.40,235.19 287.80,235.18 288.20,235.17 288.60,235.17 289.00,235.16 289.40,235.16 289.80,235.15 290.20,235.15 290.60,235.15 291.00,235.14 291.40,235.14 291.80,235.13 292.20,235.13 292.60,235.13 293.00,235.13 293.40,235.12 293.80,235.12 294.20,235.12 294.60,235.12 295.00,235.12 295.40,235.11 295.80,235.11 296.20,235.11 296.60,235.11 297.00,235.10 297.40,235.10 297.80,235.09 298.20,235.09 298.60,235.08 299.00,235.07 299.40,235.06 299.80,235.05 300.20,235.03 300.60,235.01 301.00,234.99 301.40,234.96 301.80,234.93 302.20,234.90 302.60,234.86 303.00,234.81 303.40,234.76 303.80,234.71 304.20,234.64 304.60,234.57 305.00,234.49 305.40,234.40 305.80,234.30 306.20,234.19 306.60,234.08 307.00,233.95 307.40,233.82 307.80,233.68 308.20,233.53 308.60,233.37 309.00,233.21 309.40,233.04 309.80,232.86 310.20,232.68 310.60,232.49 311.00,232.31 311.40,232.12 311.80,231.93 312.20,231.74 312.60,231.55 313.00,231.37 313.40,231.18 313.80,231.00 314.20,230.82 314.60,230.63 315.00,230.45 315.40,230.25 315.80,230.06 316.20,229.85 316.60,229.63 317.00,229.40 317.40,229.16 317.80,228.91 318.20,228.65 318.60,228.36 319.00,228.04 319.40,227.70 319.80,227.33 320.20,226.92 320.60,226.48 321.00,226.02 321.40,225.52 321.80,225.01" fill="none" stroke="#e8d040" stroke-width="0.9" stroke-linejoin="round" stroke-linecap="round" stroke-dasharray="0.8,2.6"/>
<polyline points="339.10,171.95 339.50,177.46 339.90,182.95 340.30,188.30 340.70,193.40 341.10,198.18 341.50,202.62 341.90,206.68 342.30,210.36 342.70,213.67 343.10,216.61 343.50,219.20 343.90,221.47 344.30,223.46 344.70,225.17 345.10,226.66 345.50,227.95 345.90,229.05 346.30,230.01 346.70,230.84 347.10,231.55 347.50,232.18 347.90,232.73 348.30,233.21 348.70,233.64 349.10,234.02 349.50,234.36 349.90,234.67 350.30,234.95 350.70,235.20 351.10,235.43 351.50,235.63 351.90,235.82 352.30,236.00 352.70,236.16 353.10,236.31 353.50,236.45 353.90,236.58 354.30,236.71 354.70,236.82 355.10,236.93 355.50,237.03 355.90,237.13 356.30,237.22 356.70,237.31 357.10,237.39 357.50,237.47 357.90,237.54 358.30,237.61 358.70,237.67 359.10,237.74 359.50,237.80 359.90,237.85 360.30,237.91 360.70,237.96 361.10,238.01 361.50,238.05 361.90,238.10 362.30,238.14 362.70,238.18 363.10,238.22 363.50,238.25 363.90,238.29 364.30,238.32 364.70,238.36 365.10,238.39 365.50,238.42 365.90,238.45 366.30,238.47 366.70,238.50 367.10,238.53 367.50,238.55 367.90,238.58 368.30,238.60 368.70,238.62 369.10,238.64 369.50,238.66 369.90,238.68 370.30,238.70 370.70,238.72 371.10,238.74 371.50,238.75" fill="none" stroke="#f0d040" stroke-width="0.8" stroke-linejoin="round" stroke-linecap="round" stroke-dasharray="0.6,4.4" stroke-opacity="0.6"/>
<polyline points="339.10,171.95 339.50,177.46 339.90,182.95 340.30,188.30 340.70,193.40 341.10,198.18 341.50,202.62 341.90,206.68 342.30,210.36 342.70,213.67 343.10,216.61 343.50,219.20 343.90,221.47 344.30,223.46 344.70,225.17 345.10,226.66 345.50,227.95 345.90,229.05 346.30,230.01 346.70,230.84 347.10,231.55 347.50,232.18 347.90,232.73 348.30,233.21 348.70,233.64 349.10,234.02 349.50,234.36 349.90,234.67 350.30,234.95 350.70,235.20 351.10,235.43 351.50,235.63 351.90,235.82 352.30,236.00 352.70,236.16 353.10,236.31 353.50,236.45 353.90,236.58 354.30,236.71 354.70,236.82 355.10,236.93 355.50,237.03 355.90,237.13 356.30,237.22 356.70,237.31 357.10,237.39 357.50,237.47 357.90,237.54 358.30,237.61 358.70,237.67 359.10,237.74 359.50,237.80 359.90,237.85 360.30,237.91 360.70,237.96 361.10,238.01 361.50,238.05 361.90,238.10 362.30,238.14 362.70,238.18 363.10,238.22 363.50,238.25 363.90,238.29 364.30,238.32 364.70,238.36 365.10,238.39 365.50,238.42 365.90,238.45 366.30,238.47 366.70,238.50 367.10,238.53 367.50,238.55 367.90,238.58 368.30,238.60 368.70,238.62 369.10,238.64 369.50,238.66 369.90,238.68 370.30,238.70 370.70,238.72 371.10,238.74 371.50,238.75" fill="none" stroke="#e878b8" stroke-width="0.8" stroke-linejoin="round" stroke-linecap="round" stroke-dasharray="0.6,4.4" stroke-dashoffset="2.5" stroke-opacity="0.6"/>
<text transform="translate(332.9,173.5) scale(1,1.08)" font-size="7.0" fill="#c8307a" stroke="#c8307a" stroke-width="0.2" text-anchor="end" >C=C</text>
<text transform="translate(323.3,224.8) scale(1,1.08)" font-size="6.8" fill="#50d038" stroke="#50d038" stroke-width="0.2" text-anchor="end" >C-O</text>
<text transform="translate(311.0,231.2) scale(1,1.08)" font-size="6.8" fill="#4858b8" stroke="#4858b8" stroke-width="0.2" text-anchor="end" >C=O</text>
<text transform="translate(220.2,280.4) scale(1,1.08)" font-size="10.6" fill="#161616" stroke="#161616" stroke-width="0.2" text-anchor="middle" >f)</text>
<rect x="235.3" y="277.0" width="150.09999999999997" height="110.39999999999998" fill="none" stroke="#546a73" stroke-width="1.0"/>
<line x1="385.4" y1="387.4" x2="385.4" y2="389.59999999999997" stroke="#546a73" stroke-width="1.0"/>
<line x1="363.9571428571428" y1="387.4" x2="363.9571428571428" y2="389.59999999999997" stroke="#546a73" stroke-width="1.0"/>
<line x1="342.51428571428573" y1="387.4" x2="342.51428571428573" y2="389.59999999999997" stroke="#546a73" stroke-width="1.0"/>
<line x1="321.07142857142856" y1="387.4" x2="321.07142857142856" y2="389.59999999999997" stroke="#546a73" stroke-width="1.0"/>
<line x1="299.62857142857143" y1="387.4" x2="299.62857142857143" y2="389.59999999999997" stroke="#546a73" stroke-width="1.0"/>
<line x1="278.1857142857143" y1="387.4" x2="278.1857142857143" y2="389.59999999999997" stroke="#546a73" stroke-width="1.0"/>
<line x1="256.74285714285713" y1="387.4" x2="256.74285714285713" y2="389.59999999999997" stroke="#546a73" stroke-width="1.0"/>
<line x1="235.3" y1="387.4" x2="235.3" y2="389.59999999999997" stroke="#546a73" stroke-width="1.0"/>
<line x1="374.67857142857144" y1="387.4" x2="374.67857142857144" y2="388.79999999999995" stroke="#546a73" stroke-width="1.0"/>
<line x1="353.23571428571427" y1="387.4" x2="353.23571428571427" y2="388.79999999999995" stroke="#546a73" stroke-width="1.0"/>
<line x1="331.79285714285714" y1="387.4" x2="331.79285714285714" y2="388.79999999999995" stroke="#546a73" stroke-width="1.0"/>
<line x1="310.35" y1="387.4" x2="310.35" y2="388.79999999999995" stroke="#546a73" stroke-width="1.0"/>
<line x1="288.90714285714284" y1="387.4" x2="288.90714285714284" y2="388.79999999999995" stroke="#546a73" stroke-width="1.0"/>
<line x1="267.4642857142857" y1="387.4" x2="267.4642857142857" y2="388.79999999999995" stroke="#546a73" stroke-width="1.0"/>
<line x1="246.02142857142857" y1="387.4" x2="246.02142857142857" y2="388.79999999999995" stroke="#546a73" stroke-width="1.0"/>
<text transform="translate(235.30,395.59999999999997) scale(1,1.08)" font-size="6.2" fill="#161616" stroke="#161616" stroke-width="0.2" text-anchor="middle" >294</text>
<text transform="translate(256.74,395.59999999999997) scale(1,1.08)" font-size="6.2" fill="#161616" stroke="#161616" stroke-width="0.2" text-anchor="middle" >292</text>
<text transform="translate(278.19,395.59999999999997) scale(1,1.08)" font-size="6.2" fill="#161616" stroke="#161616" stroke-width="0.2" text-anchor="middle" >290</text>
<text transform="translate(299.63,395.59999999999997) scale(1,1.08)" font-size="6.2" fill="#161616" stroke="#161616" stroke-width="0.2" text-anchor="middle" >288</text>
<text transform="translate(321.07,395.59999999999997) scale(1,1.08)" font-size="6.2" fill="#161616" stroke="#161616" stroke-width="0.2" text-anchor="middle" >286</text>
<text transform="translate(342.51,395.59999999999997) scale(1,1.08)" font-size="6.2" fill="#161616" stroke="#161616" stroke-width="0.2" text-anchor="middle" >284</text>
<text transform="translate(363.96,395.59999999999997) scale(1,1.08)" font-size="6.2" fill="#161616" stroke="#161616" stroke-width="0.2" text-anchor="middle" >282</text>
<text transform="translate(385.40,395.59999999999997) scale(1,1.08)" font-size="6.2" fill="#161616" stroke="#161616" stroke-width="0.2" text-anchor="middle" >280</text>
<text transform="translate(310.4,405.79999999999995) scale(1,1.08)" font-size="7.4" fill="#161616" stroke="#161616" stroke-width="0.2" text-anchor="middle" >Binding energy (eV)</text>
<text transform="translate(228.6,336.5) rotate(-90) scale(1,1.08)" font-size="7.5" fill="#161616" stroke="#161616" stroke-width="0.2" text-anchor="middle">Intensity (a.u.)</text>
<text transform="translate(237.7,284.7) scale(1,1.08)" font-size="9.2" fill="#161616" stroke="#161616" stroke-width="0.2" text-anchor="start" >FLG-Br C 1s</text>
<polyline points="235.80,373.14 236.20,373.14 236.60,373.14 237.00,373.13 237.40,373.13 237.80,373.13 238.20,373.12 238.60,373.12 239.00,373.12 239.40,373.11 239.80,373.11 240.20,373.10 240.60,373.10 241.00,373.10 241.40,373.09 241.80,373.09 242.20,373.08 242.60,373.08 243.00,373.07 243.40,373.07 243.80,373.06 244.20,373.05 244.60,373.05 245.00,373.04 245.40,373.04 245.80,373.03 246.20,373.02 246.60,373.01 247.00,373.01 247.40,373.00 247.80,372.99 248.20,372.98 248.60,372.98 249.00,372.97 249.40,372.96 249.80,372.95 250.20,372.94 250.60,372.93 251.00,372.92 251.40,372.91 251.80,372.90 252.20,372.89 252.60,372.88 253.00,372.87 253.40,372.86 253.80,372.85 254.20,372.84 254.60,372.83 255.00,372.82 255.40,372.80 255.80,372.79 256.20,372.78 256.60,372.77 257.00,372.75 257.40,372.74 257.80,372.73 258.20,372.71 258.60,372.70 259.00,372.68 259.40,372.67 259.80,372.66 260.20,372.64 260.60,372.63 261.00,372.61 261.40,372.60 261.80,372.58 262.20,372.56 262.60,372.55 263.00,372.53 263.40,372.52 263.80,372.50 264.20,372.48 264.60,372.47 265.00,372.45 265.40,372.43 265.80,372.42 266.20,372.40 266.60,372.38 267.00,372.37 267.40,372.35 267.80,372.33 268.20,372.32 268.60,372.30 269.00,372.28 269.40,372.26 269.80,372.25 270.20,372.23 270.60,372.21 271.00,372.20 271.40,372.18 271.80,372.16 272.20,372.15 272.60,372.13 273.00,372.11 273.40,372.10 273.80,372.08 274.20,372.06 274.60,372.05 275.00,372.03 275.40,372.02 275.80,372.00 276.20,371.99 276.60,371.97 277.00,371.96 277.40,371.94 277.80,371.93 278.20,371.92 278.60,371.90 279.00,371.89 279.40,371.88 279.80,371.86 280.20,371.85 280.60,371.84 281.00,371.83 281.40,371.82 281.80,371.81 282.20,371.80 282.60,371.79 283.00,371.78 283.40,371.77 283.80,371.76 284.20,371.76 284.60,371.75 285.00,371.74 285.40,371.73 285.80,371.73 286.20,371.72 286.60,371.72 287.00,371.71 287.40,371.71 287.80,371.71 288.20,371.71 288.60,371.70 289.00,371.70 289.40,371.70 289.80,371.70 290.20,371.70 290.60,371.70 291.00,371.70 291.40,371.70 291.80,371.71 292.20,371.71 292.60,371.71 293.00,371.71 293.40,371.72 293.80,371.72 294.20,371.73 294.60,371.73 295.00,371.74 295.40,371.75 295.80,371.76 296.20,371.76 296.60,371.77 297.00,371.78 297.40,371.79 297.80,371.80 298.20,371.81 298.60,371.82 299.00,371.83 299.40,371.84 299.80,371.85 300.20,371.86 300.60,371.88 301.00,371.89 301.40,371.90 301.80,371.92 302.20,371.93 302.60,371.94 303.00,371.96 303.40,371.97 303.80,371.99 304.20,372.00 304.60,372.02 305.00,372.03 305.40,372.05 305.80,372.06 306.20,372.08 306.60,372.10 307.00,372.11 307.40,372.13 307.80,372.15 308.20,372.16 308.60,372.18 309.00,372.20 309.40,372.21 309.80,372.23 310.20,372.25 310.60,372.26 311.00,372.28 311.40,372.30 311.80,372.32 312.20,372.33 312.60,372.35 313.00,372.37 313.40,372.38 313.80,372.40 314.20,372.42 314.60,372.43 315.00,372.45 315.40,372.47 315.80,372.48 316.20,372.50 316.60,372.52 317.00,372.53 317.40,372.55 317.80,372.56 318.20,372.58 318.60,372.60 319.00,372.61 319.40,372.63 319.80,372.64 320.20,372.66 320.60,372.67 321.00,372.68 321.40,372.70 321.80,372.71 322.20,372.73 322.60,372.74 323.00,372.75 323.40,372.77 323.80,372.78 324.20,372.79 324.60,372.80 325.00,372.82 325.40,372.83 325.80,372.85 326.20,372.87 326.60,372.89 327.00,372.92 327.40,372.95 327.80,372.99 328.20,373.03 328.60,373.07 329.00,373.12 329.40,373.17 329.80,373.22 330.20,373.28 330.60,373.34 331.00,373.40 331.40,373.47 331.80,373.53 332.20,373.60 332.60,373.68 333.00,373.75 333.40,373.83 333.80,373.91 334.20,373.99 334.60,374.07 335.00,374.16 335.40,374.25 335.80,374.33 336.20,374.42 336.60,374.51 337.00,374.60 337.40,374.69 337.80,374.78 338.20,374.87 338.60,374.96 339.00,375.05 339.40,375.14 339.80,375.23 340.20,375.32 340.60,375.41 341.00,375.50 341.40,375.58 341.80,375.67 342.20,375.75 342.60,375.83 343.00,375.91 343.40,375.99 343.80,376.06 344.20,376.13 344.60,376.20 345.00,376.27 345.40,376.33 345.80,376.39 346.20,376.45 346.60,376.50 347.00,376.56 347.40,376.60 347.80,376.65 348.20,376.69 348.60,376.72 349.00,376.76 349.40,376.79 349.80,376.81 350.20,376.83 350.60,376.85 351.00,376.86 351.40,376.87 351.80,376.88 352.20,376.88 352.60,376.88 353.00,376.88 353.40,376.88 353.80,376.88 354.20,376.88 354.60,376.89 355.00,376.89 355.40,376.89 355.80,376.89 356.20,376.89 356.60,376.89 357.00,376.89 357.40,376.89 357.80,376.89 358.20,376.89 358.60,376.89 359.00,376.89 359.40,376.89 359.80,376.89 360.20,376.89 360.60,376.89 361.00,376.89 361.40,376.89 361.80,376.90 362.20,376.90 362.60,376.90 363.00,376.90 363.40,376.90 363.80,376.90 364.20,376.90 364.60,376.90 365.00,376.90 365.40,376.90 365.80,376.90 366.20,376.90 366.60,376.90 367.00,376.90 367.40,376.90 367.80,376.90 368.20,376.90 368.60,376.90 369.00,376.90 369.40,376.90 369.80,376.90 370.20,376.90 370.60,376.90 371.00,376.90 371.40,376.90 371.80,376.90 372.20,376.90 372.60,376.90 373.00,376.90 373.40,376.90 373.80,376.90 374.20,376.90 374.60,376.90 375.00,376.90 375.40,376.90 375.80,376.90 376.20,376.90 376.60,376.90 377.00,376.90 377.40,376.90 377.80,376.90 378.20,376.90 378.60,376.90 379.00,376.90 379.40,376.90 379.80,376.90 380.20,376.90 380.60,376.90 381.00,376.90 381.40,376.90 381.80,376.90 382.20,376.90 382.60,376.90 383.00,376.90 383.40,376.90 383.80,376.90 384.20,376.90 384.60,376.90" fill="none" stroke="#5868c0" stroke-width="1.0" stroke-linejoin="round" stroke-linecap="round" />
<polyline points="318.20,371.36 318.60,371.33 319.00,371.29 319.40,371.25 319.80,371.20 320.20,371.15 320.60,371.10 321.00,371.04 321.40,370.97 321.80,370.90 322.20,370.82 322.60,370.73 323.00,370.63 323.40,370.52 323.80,370.39 324.20,370.24 324.60,370.07 325.00,369.87 325.40,369.64 325.80,369.36 326.20,369.02 326.60,368.62 327.00,368.12 327.40,367.51 327.80,366.76 328.20,365.84 328.60,364.72 329.00,363.36 329.40,361.73 329.80,359.78 330.20,357.49 330.60,354.82 331.00,351.74 331.40,348.25 331.80,344.33 332.20,340.00 332.60,335.30 333.00,330.25 333.40,324.95 333.80,319.48 334.20,313.95 334.60,308.51 335.00,303.33 335.40,298.58 335.80,294.46 336.20,291.17 336.60,288.89 337.00,287.75 337.40,287.86 337.80,289.31 338.20,292.01 338.60,295.76 339.00,300.31 339.40,305.41 339.80,310.81 340.20,316.32 340.60,321.78 341.00,327.06 341.40,332.08 341.80,336.78 342.20,341.12 342.60,345.09 343.00,348.67 343.40,351.88 343.80,354.73 344.20,357.24 344.60,359.44 345.00,361.35 345.40,363.00 345.80,364.44 346.20,365.67 346.60,366.74 347.00,367.66 347.40,368.45 347.80,369.14 348.20,369.75 348.60,370.27 349.00,370.74 349.40,371.15 349.80,371.52 350.20,371.85 350.60,372.15 351.00,372.42 351.40,372.66 351.80,372.88 352.20,373.08 352.60,373.26 353.00,373.43 353.40,373.59 353.80,373.74 354.20,373.88 354.60,374.01 355.00,374.13 355.40,374.25 355.80,374.36 356.20,374.46 356.60,374.55 357.00,374.64 357.40,374.73 357.80,374.81 358.20,374.88 358.60,374.96 359.00,375.02 359.40,375.09 359.80,375.15 360.20,375.21 360.60,375.26 361.00,375.32 361.40,375.37 361.80,375.42" fill="none" stroke="#e03c8c" stroke-width="1.0" stroke-linejoin="round" stroke-linecap="round" />
<polyline points="314.20,372.39 314.60,372.40 315.00,372.40 315.40,372.39 315.80,372.38 316.20,372.36 316.60,372.32 317.00,372.27 317.40,372.19 317.80,372.09 318.20,371.96 318.60,371.79 319.00,371.58 319.40,371.32 319.80,371.00 320.20,370.62 320.60,370.16 321.00,369.63 321.40,369.02 321.80,368.33 322.20,367.55 322.60,366.70 323.00,365.78 323.40,364.80 323.80,363.76 324.20,362.70 324.60,361.63 325.00,360.57 325.40,359.54 325.80,358.59 326.20,357.72 326.60,356.97 327.00,356.36 327.40,355.91 327.80,355.63 328.20,355.54 328.60,355.63 329.00,355.91 329.40,356.38 329.80,357.01 330.20,357.79 330.60,358.69 331.00,359.70 331.40,360.77 331.80,361.88 332.20,363.02 332.60,364.15 333.00,365.26 333.40,366.33 333.80,367.34 334.20,368.29 334.60,369.17 335.00,369.98 335.40,370.71 335.80,371.36 336.20,371.94 336.60,372.45 337.00,372.90 337.40,373.29 337.80,373.63 338.20,373.93 338.60,374.18 339.00,374.41 339.40,374.61 339.80,374.79 340.20,374.94 340.60,375.08 341.00,375.21 341.40,375.33 341.80,375.44 342.20,375.55 342.60,375.65 343.00,375.74 343.40,375.83 343.80,375.91 344.20,375.99 344.60,376.07 345.00,376.14 345.40,376.21 345.80,376.28 346.20,376.34 346.60,376.40 347.00,376.46 347.40,376.51 347.80,376.55" fill="none" stroke="#f3a060" stroke-width="1.0" stroke-linejoin="round" stroke-linecap="round" />
<polyline points="308.20,372.16 308.60,372.17 309.00,372.18 309.40,372.19 309.80,372.20 310.20,372.20 310.60,372.19 311.00,372.17 311.40,372.14 311.80,372.10 312.20,372.03 312.60,371.93 313.00,371.80 313.40,371.64 313.80,371.42 314.20,371.16 314.60,370.84 315.00,370.45 315.40,370.01 315.80,369.51 316.20,368.95 316.60,368.34 317.00,367.70 317.40,367.04 317.80,366.39 318.20,365.75 318.60,365.17 319.00,364.65 319.40,364.23 319.80,363.91 320.20,363.72 320.60,363.67 321.00,363.75 321.40,363.97 321.80,364.31 322.20,364.77 322.60,365.31 323.00,365.93 323.40,366.59 323.80,367.27 324.20,367.96 324.60,368.63 325.00,369.26 325.40,369.85 325.80,370.39 326.20,370.87 326.60,371.29 327.00,371.66 327.40,371.98 327.80,372.24 328.20,372.47 328.60,372.66 329.00,372.82 329.40,372.95 329.80,373.07 330.20,373.17 330.60,373.26 331.00,373.35 331.40,373.43 331.80,373.51 332.20,373.59 332.60,373.67 333.00,373.75 333.40,373.83 333.80,373.91" fill="none" stroke="#58d048" stroke-width="1.0" stroke-linejoin="round" stroke-linecap="round" />
<polyline points="300.20,371.85 300.60,371.86 301.00,371.87 301.40,371.88 301.80,371.88 302.20,371.89 302.60,371.89 303.00,371.88 303.40,371.88 303.80,371.86 304.20,371.84 304.60,371.82 305.00,371.78 305.40,371.74 305.80,371.68 306.20,371.61 306.60,371.53 307.00,371.43 307.40,371.32 307.80,371.19 308.20,371.05 308.60,370.89 309.00,370.72 309.40,370.54 309.80,370.34 310.20,370.14 310.60,369.93 311.00,369.71 311.40,369.51 311.80,369.30 312.20,369.11 312.60,368.94 313.00,368.79 313.40,368.66 313.80,368.56 314.20,368.49 314.60,368.45 315.00,368.45 315.40,368.49 315.80,368.55 316.20,368.66 316.60,368.79 317.00,368.95 317.40,369.14 317.80,369.35 318.20,369.57 318.60,369.80 319.00,370.04 319.40,370.29 319.80,370.53 320.20,370.77 320.60,370.99 321.00,371.21 321.40,371.41 321.80,371.60 322.20,371.78 322.60,371.93 323.00,372.07 323.40,372.20 323.80,372.31 324.20,372.41 324.60,372.49 325.00,372.57 325.40,372.63 325.80,372.69 326.20,372.74 326.60,372.80 327.00,372.85 327.40,372.90 327.80,372.95 328.20,373.00 328.60,373.05 329.00,373.10 329.40,373.16 329.80,373.21" fill="none" stroke="#5868c0" stroke-width="1.0" stroke-linejoin="round" stroke-linecap="round" />
<polyline points="235.80,373.10 236.20,373.09 236.60,373.09 237.00,373.09 237.40,373.08 237.80,373.08 238.20,373.08 238.60,373.07 239.00,373.07 239.40,373.06 239.80,373.06 240.20,373.06 240.60,373.05 241.00,373.05 241.40,373.04 241.80,373.04 242.20,373.03 242.60,373.03 243.00,373.02 243.40,373.01 243.80,373.01 244.20,373.00 244.60,372.99 245.00,372.99 245.40,372.98 245.80,372.97 246.20,372.97 246.60,372.96 247.00,372.95 247.40,372.94 247.80,372.94 248.20,372.93 248.60,372.92 249.00,372.91 249.40,372.90 249.80,372.89 250.20,372.88 250.60,372.87 251.00,372.86 251.40,372.85 251.80,372.84 252.20,372.83 252.60,372.82 253.00,372.81 253.40,372.80 253.80,372.78 254.20,372.77 254.60,372.76 255.00,372.75 255.40,372.73 255.80,372.72 256.20,372.71 256.60,372.70 257.00,372.68 257.40,372.67 257.80,372.65 258.20,372.64 258.60,372.62 259.00,372.61 259.40,372.59 259.80,372.58 260.20,372.56 260.60,372.55 261.00,372.53 261.40,372.52 261.80,372.50 262.20,372.48 262.60,372.47 263.00,372.45 263.40,372.43 263.80,372.42 264.20,372.40 264.60,372.38 265.00,372.36 265.40,372.35 265.80,372.33 266.20,372.31 266.60,372.29 267.00,372.27 267.40,372.26 267.80,372.24 268.20,372.22 268.60,372.20 269.00,372.18 269.40,372.16 269.80,372.15 270.20,372.13 270.60,372.11 271.00,372.09 271.40,372.07 271.80,372.05 272.20,372.04 272.60,372.02 273.00,372.00 273.40,371.98 273.80,371.97 274.20,371.95 274.60,371.93 275.00,371.91 275.40,371.90 275.80,371.88 276.20,371.86 276.60,371.85 277.00,371.83 277.40,371.81 277.80,371.80 278.20,371.78 278.60,371.77 279.00,371.75 279.40,371.74 279.80,371.72 280.20,371.71 280.60,371.70 281.00,371.68 281.40,371.67 281.80,371.66 282.20,371.65 282.60,371.64 283.00,371.62 283.40,371.61 283.80,371.60 284.20,371.59 284.60,371.58 285.00,371.57 285.40,371.56 285.80,371.56 286.20,371.55 286.60,371.54 287.00,371.53 287.40,371.53 287.80,371.52 288.20,371.52 288.60,371.51 289.00,371.50 289.40,371.50 289.80,371.50 290.20,371.49 290.60,371.49 291.00,371.49 291.40,371.49 291.80,371.48 292.20,371.48 292.60,371.48 293.00,371.48 293.40,371.48 293.80,371.48 294.20,371.48 294.60,371.48 295.00,371.49 295.40,371.49 295.80,371.49 296.20,371.49 296.60,371.49 297.00,371.50 297.40,371.50 297.80,371.50 298.20,371.51 298.60,371.51 299.00,371.51 299.40,371.52 299.80,371.52 300.20,371.52 300.60,371.52 301.00,371.52 301.40,371.52 301.80,371.52 302.20,371.52 302.60,371.51 303.00,371.50 303.40,371.48 303.80,371.46 304.20,371.43 304.60,371.39 305.00,371.35 305.40,371.29 305.80,371.22 306.20,371.14 306.60,371.05 307.00,370.94 307.40,370.81 307.80,370.67 308.20,370.51 308.60,370.33 309.00,370.14 309.40,369.93 309.80,369.71 310.20,369.47 310.60,369.22 311.00,368.95 311.40,368.68 311.80,368.39 312.20,368.09 312.60,367.78 313.00,367.45 313.40,367.11 313.80,366.75 314.20,366.36 314.60,365.94 315.00,365.50 315.40,365.02 315.80,364.50 316.20,363.96 316.60,363.38 317.00,362.77 317.40,362.15 317.80,361.53 318.20,360.91 318.60,360.31 319.00,359.74 319.40,359.21 319.80,358.72 320.20,358.29 320.60,357.91 321.00,357.58 321.40,357.28 321.80,357.01 322.20,356.74 322.60,356.46 323.00,356.15 323.40,355.81 323.80,355.40 324.20,354.94 324.60,354.41 325.00,353.82 325.40,353.17 325.80,352.48 326.20,351.76 326.60,351.00 327.00,350.23 327.40,349.43 327.80,348.61 328.20,347.75 328.60,346.83 329.00,345.83 329.40,344.70 329.80,343.41 330.20,341.89 330.60,340.10 331.00,337.98 331.40,335.51 331.80,332.66 332.20,329.40 332.60,325.76 333.00,321.75 333.40,317.44 333.80,312.91 334.20,308.25 334.60,303.61 335.00,299.15 335.40,295.04 335.80,291.48 336.20,288.69 336.60,286.83 337.00,286.05 337.40,286.46 337.80,288.16 338.20,291.07 338.60,294.98 339.00,299.67 339.40,304.87 339.80,310.37 340.20,315.94 340.60,321.45 341.00,326.78 341.40,331.83 341.80,336.56 342.20,340.92 342.60,344.91 343.00,348.50 343.40,351.72 343.80,354.58 344.20,357.10 344.60,359.30 345.00,361.22 345.40,362.89 345.80,364.32 346.20,365.56 346.60,366.63 347.00,367.56 347.40,368.36 347.80,369.05 348.20,369.66 348.60,370.19 349.00,370.66 349.40,371.08 349.80,371.45 350.20,371.78 350.60,372.08 351.00,372.35 351.40,372.59 351.80,372.82 352.20,373.02 352.60,373.20 353.00,373.38 353.40,373.54 353.80,373.69 354.20,373.83 354.60,373.96 355.00,374.08 355.40,374.20 355.80,374.31 356.20,374.41 356.60,374.51 357.00,374.60 357.40,374.68 357.80,374.77 358.20,374.84 358.60,374.92 359.00,374.99 359.40,375.05 359.80,375.11 360.20,375.17 360.60,375.23 361.00,375.28 361.40,375.34 361.80,375.38 362.20,375.43 362.60,375.48 363.00,375.52 363.40,375.56 363.80,375.60 364.20,375.64 364.60,375.67 365.00,375.71 365.40,375.74 365.80,375.77 366.20,375.80 366.60,375.83 367.00,375.86 367.40,375.88 367.80,375.91 368.20,375.93 368.60,375.96 369.00,375.98 369.40,376.00 369.80,376.03 370.20,376.05 370.60,376.07 371.00,376.09 371.40,376.10 371.80,376.12 372.20,376.14 372.60,376.16 373.00,376.17 373.40,376.19 373.80,376.20 374.20,376.22 374.60,376.23 375.00,376.25 375.40,376.26 375.80,376.27 376.20,376.29 376.60,376.30 377.00,376.31 377.40,376.32 377.80,376.33 378.20,376.34 378.60,376.35 379.00,376.36 379.40,376.37 379.80,376.38 380.20,376.39 380.60,376.40 381.00,376.41 381.40,376.42 381.80,376.43 382.20,376.44 382.60,376.44 383.00,376.45 383.40,376.46 383.80,376.47 384.20,376.47 384.60,376.48" fill="none" stroke="#3a4a52" stroke-width="1.05" stroke-linejoin="round" stroke-linecap="round" />
<polyline points="262.20,373.08 262.60,373.07 263.00,373.05 263.40,373.03 263.80,373.02 264.20,373.00 264.60,372.98 265.00,372.96 265.40,372.95 265.80,372.93 266.20,372.91 266.60,372.89 267.00,372.87 267.40,372.86 267.80,372.84 268.20,372.82 268.60,372.80 269.00,372.78 269.40,372.76 269.80,372.75 270.20,372.73 270.60,372.71 271.00,372.69 271.40,372.67 271.80,372.65 272.20,372.64 272.60,372.62 273.00,372.60 273.40,372.58 273.80,372.57 274.20,372.55 274.60,372.53 275.00,372.51 275.40,372.50 275.80,372.48 276.20,372.46 276.60,372.45 277.00,372.43 277.40,372.41 277.80,372.40 278.20,372.38 278.60,372.37 279.00,372.35 279.40,372.34 279.80,372.32 280.20,372.31 280.60,372.30 281.00,372.28 281.40,372.27 281.80,372.26 282.20,372.25 282.60,372.24 283.00,372.22 283.40,372.21 283.80,372.20 284.20,372.19 284.60,372.18 285.00,372.17 285.40,372.16 285.80,372.16 286.20,372.15 286.60,372.14 287.00,372.13 287.40,372.13 287.80,372.12 288.20,372.12 288.60,372.11 289.00,372.10 289.40,372.10 289.80,372.10 290.20,372.09 290.60,372.09 291.00,372.09 291.40,372.09 291.80,372.08 292.20,372.08 292.60,372.08 293.00,372.08 293.40,372.08 293.80,372.08 294.20,372.08 294.60,372.08 295.00,372.09 295.40,372.09 295.80,372.09 296.20,372.09 296.60,372.09 297.00,372.10 297.40,372.10 297.80,372.10 298.20,372.11 298.60,372.11 299.00,372.11 299.40,372.12 299.80,372.12 300.20,372.12 300.60,372.12 301.00,372.12 301.40,372.12 301.80,372.12 302.20,372.12 302.60,372.11 303.00,372.10 303.40,372.08 303.80,372.06 304.20,372.03 304.60,371.99 305.00,371.95 305.40,371.89 305.80,371.82 306.20,371.74 306.60,371.65 307.00,371.54 307.40,371.41 307.80,371.27 308.20,371.11 308.60,370.93 309.00,370.74 309.40,370.53 309.80,370.31 310.20,370.07 310.60,369.82 311.00,369.55 311.40,369.28 311.80,368.99 312.20,368.69 312.60,368.38 313.00,368.05 313.40,367.71 313.80,367.35 314.20,366.96 314.60,366.54 315.00,366.10 315.40,365.62 315.80,365.10 316.20,364.56 316.60,363.98 317.00,363.37 317.40,362.75 317.80,362.13 318.20,361.51 318.60,360.91 319.00,360.34 319.40,359.81 319.80,359.32 320.20,358.89 320.60,358.51 321.00,358.18 321.40,357.88 321.80,357.61" fill="none" stroke="#e8d040" stroke-width="0.9" stroke-linejoin="round" stroke-linecap="round" stroke-dasharray="0.8,2.6"/>
<polyline points="339.50,310.17 339.90,315.74 340.30,321.25 340.70,326.58 341.10,331.63 341.50,336.36 341.90,340.72 342.30,344.71 342.70,348.30 343.10,351.52 343.50,354.38 343.90,356.90 344.30,359.10 344.70,361.02 345.10,362.69 345.50,364.12 345.90,365.36 346.30,366.43 346.70,367.36 347.10,368.16 347.50,368.85 347.90,369.46 348.30,369.99 348.70,370.46 349.10,370.88 349.50,371.25 349.90,371.58 350.30,371.88 350.70,372.15 351.10,372.39 351.50,372.62 351.90,372.82 352.30,373.00 352.70,373.18 353.10,373.34 353.50,373.49 353.90,373.63 354.30,373.76 354.70,373.88 355.10,374.00 355.50,374.11 355.90,374.21 356.30,374.31 356.70,374.40 357.10,374.48 357.50,374.57 357.90,374.64 358.30,374.72 358.70,374.79 359.10,374.85 359.50,374.91 359.90,374.97 360.30,375.03 360.70,375.08 361.10,375.14 361.50,375.18 361.90,375.23 362.30,375.28 362.70,375.32 363.10,375.36 363.50,375.40 363.90,375.44 364.30,375.47 364.70,375.51 365.10,375.54 365.50,375.57 365.90,375.60 366.30,375.63 366.70,375.66 367.10,375.68 367.50,375.71 367.90,375.73 368.30,375.76 368.70,375.78 369.10,375.80 369.50,375.83 369.90,375.85 370.30,375.87 370.70,375.89 371.10,375.90 371.50,375.92" fill="none" stroke="#f0d040" stroke-width="0.8" stroke-linejoin="round" stroke-linecap="round" stroke-dasharray="0.6,4.4" stroke-opacity="0.6"/>
<polyline points="339.50,310.17 339.90,315.74 340.30,321.25 340.70,326.58 341.10,331.63 341.50,336.36 341.90,340.72 342.30,344.71 342.70,348.30 343.10,351.52 343.50,354.38 343.90,356.90 344.30,359.10 344.70,361.02 345.10,362.69 345.50,364.12 345.90,365.36 346.30,366.43 346.70,367.36 347.10,368.16 347.50,368.85 347.90,369.46 348.30,369.99 348.70,370.46 349.10,370.88 349.50,371.25 349.90,371.58 350.30,371.88 350.70,372.15 351.10,372.39 351.50,372.62 351.90,372.82 352.30,373.00 352.70,373.18 353.10,373.34 353.50,373.49 353.90,373.63 354.30,373.76 354.70,373.88 355.10,374.00 355.50,374.11 355.90,374.21 356.30,374.31 356.70,374.40 357.10,374.48 357.50,374.57 357.90,374.64 358.30,374.72 358.70,374.79 359.10,374.85 359.50,374.91 359.90,374.97 360.30,375.03 360.70,375.08 361.10,375.14 361.50,375.18 361.90,375.23 362.30,375.28 362.70,375.32 363.10,375.36 363.50,375.40 363.90,375.44 364.30,375.47 364.70,375.51 365.10,375.54 365.50,375.57 365.90,375.60 366.30,375.63 366.70,375.66 367.10,375.68 367.50,375.71 367.90,375.73 368.30,375.76 368.70,375.78 369.10,375.80 369.50,375.83 369.90,375.85 370.30,375.87 370.70,375.89 371.10,375.90 371.50,375.92" fill="none" stroke="#e878b8" stroke-width="0.8" stroke-linejoin="round" stroke-linecap="round" stroke-dasharray="0.6,4.4" stroke-dashoffset="2.5" stroke-opacity="0.6"/>
<text transform="translate(332.9,309.0) scale(1,1.08)" font-size="7.0" fill="#c8307a" stroke="#c8307a" stroke-width="0.2" text-anchor="end" >C=C</text>
<text transform="translate(326.5,352.0) scale(1,1.08)" font-size="7.0" fill="#f08838" stroke="#f08838" stroke-width="0.2" text-anchor="end" >C-Br</text>
<text transform="translate(319.0,363.2) scale(1,1.08)" font-size="6.8" fill="#50d038" stroke="#50d038" stroke-width="0.2" text-anchor="end" >C-O</text>
<text transform="translate(308.0,369.5) scale(1,1.08)" font-size="6.8" fill="#4858b8" stroke="#4858b8" stroke-width="0.2" text-anchor="end" >C=O</text></svg></body></html>
